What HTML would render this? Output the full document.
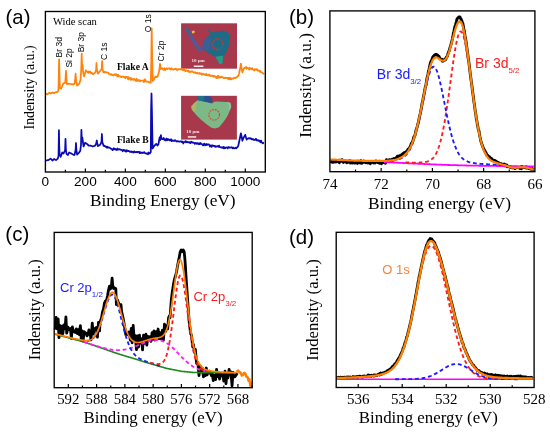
<!DOCTYPE html>
<html><head><meta charset="utf-8"><title>XPS spectra</title>
<style>
html,body{margin:0;padding:0;background:#fff;width:550px;height:432px;overflow:hidden}
svg{display:block;will-change:transform}

</style></head>
<body>
<svg width="550" height="432" viewBox="0 0 550 432">
<rect width="550" height="432" fill="#fff"/>
<rect x="181.1" y="23.3" width="55.9" height="45.4" fill="#a8384c"/>
<polygon points="185.05,28.32 186.86,27.47 188.99,30.45 191.12,34.18 193.78,37.91 195.91,41.64 198.57,45.36 201.23,48.56 201.77,51.54 199.64,51.97 197.51,49.62 194.84,46.43 192.71,42.7 190.58,38.97 188.45,35.25 186.32,31.52" fill="#4c5a9e"/>
<polygon points="185.05,28.32 186.86,27.47 188.99,30.45 190.58,33.12 188.45,34.18 186.32,31.52" fill="#2f6a92"/>
<polygon points="206.35,27.26 208.9,29.39 211.88,32.58 217.21,31.52 223.6,30.45 227.86,32.58 230.52,36.31 229.46,42.17 228.39,47.49 226.79,51.75 224.66,54.95 223.07,57.08 222.53,63.68 219.34,64.11 217.21,59.74 215.08,57.08 211.88,54.95 208.69,53.35 205.49,51.22 202.83,49.62 202.3,47.49 203.36,41.64 204.96,38.97 207.62,36.84 210.29,34.71 208.48,30.99" fill="#1e6b86"/>
<polygon points="202.83,49.62 202.3,47.49 203.36,41.64 204.96,38.97 207.62,37.06 210.29,37.06 211.03,44.3 209.97,50.16 206.56,51.33" fill="#3b5e96"/>
<polygon points="215.08,57.08 219.34,56.01 223.17,55.8 222.53,63.68 219.34,64.11 217.21,59.74" fill="#2a9a82"/>
<polygon points="191.65,31.73 192.93,30.45 194.84,30.99 194.42,33.12 192.29,33.44" fill="#e6c43c"/>
<circle cx="217.7" cy="44.3" r="5.4" fill="none" stroke="#ee2a2a" stroke-width="1.15" stroke-dasharray="1.7 1.1"/>
<rect x="193.8" y="65.6" width="9.6" height="1.3" fill="#fff"/>
<text x="198.0" y="62.4" font-family="Liberation Serif, serif" font-size="5" text-anchor="middle" fill="#fff" font-weight="bold" opacity="0.85">10 μm</text>
<rect x="181.1" y="95.8" width="55.8" height="43.8" fill="#a8384c"/>
<polygon points="191.29,106.29 195.11,102.22 197.91,99.93 204.27,101.2 212.16,102.98 214.46,101.71 217,101.45 225.91,102.09 230.24,102.73 231.26,106.29 229.98,110.11 228.2,114.44 225.66,119.02 222.35,123.35 219.04,127.16 215.22,128.44 211.4,127.67 206.56,124.36 201.09,119.78 196,114.82 191.8,109.35" fill="#7db987"/>
<polygon points="191.29,106.29 195.11,102.22 196.89,101.71 196.13,106.55 195.11,111.38 193.58,111.64 191.8,109.35" fill="#aab864"/>
<polygon points="197.91,96.11 209.62,96.11 212.16,97.89 212.42,103.49 207.07,102.22 202.36,101.2 197.91,99.93" fill="#2c4f8e"/>
<polygon points="197.91,96.11 204.02,96.11 204.53,99.16 202.24,101.2 197.91,99.93" fill="#1d7486"/>
<polygon points="226.16,102.09 230.24,102.73 231.26,106.29 229.98,110.11 228.46,110.36 229.22,105.27" fill="#8cc598"/>
<circle cx="214.2" cy="114.82" r="5.3" fill="none" stroke="#ee3a2a" stroke-width="1.15" stroke-dasharray="1.7 1.1"/>
<rect x="187.8" y="136.3" width="8.4" height="1.3" fill="#fff"/>
<text x="192.8" y="133.0" font-family="Liberation Serif, serif" font-size="5" text-anchor="middle" fill="#fff" font-weight="bold" opacity="0.85">10 μm</text>
<path d="M45.6 93.5 L46.17 93.83 L46.73 94.17 L47.3 94.5 L47.9 93.9 L48.5 93.3 L49.5 92.8 L50.15 93.2 L50.8 93.6 L51.43 93.23 L52.07 92.87 L52.7 92.5 L53.35 92.85 L54 93.2 L54.75 92.75 L55.5 92.3 L56.17 92.17 L56.83 92.03 L57.5 91.9 L58.4 90.8 L58.8 75 L59.1 59.3 L59.5 75 L59.9 88.1 L60.5 88.3 L61.1 88.5 L61.65 87.4 L62.2 86.3 L63.3 83.4 L63.9 83.27 L64.5 83.13 L65.1 83 L65.6 78 L66 70.9 L66.4 78 L66.9 84.1 L67.63 83.97 L68.37 83.83 L69.1 83.7 L69.65 83.8 L70.2 83.9 L70.75 84 L71.3 84.1 L71.85 84.2 L72.4 84.3 L72.95 84.4 L73.5 84.5 L74.6 83.5 L75.2 79 L75.6 73.7 L76.1 80 L77.1 85.5 L77.8 85 L78.5 84.5 L79.3 83.7 L79.9 81.85 L80.5 80 L81.2 70 L81.7 53.7 L82.1 68 L82.6 64.8 L83.1 72 L84 76.4 L84.63 74.4 L85.27 72.4 L85.9 70.4 L86.5 71 L87.1 71.6 L87.7 72.25 L88.26 72.81 L88.82 71.53 L89.38 72.51 L89.94 71.74 L90.5 71.66 L91.06 73.3 L91.62 72.81 L92.18 73.16 L92.74 74.04 L93.3 74.1 L93.9 73.63 L94.5 73.17 L95.1 72.7 L96.1 70 L96.5 63 L96.9 70 L97.9 73.6 L98.53 72.83 L99.17 72.07 L99.8 71.3 L100.43 70.53 L101.07 69.77 L101.7 69 L102.1 61.1 L102.5 69 L103.5 72.42 L104.06 71.96 L104.62 72.48 L105.18 71.8 L105.74 72.32 L106.3 72.46 L106.97 72.32 L107.65 72.57 L108.33 72.86 L109 73.97 L109.6 74.19 L110.2 74.28 L110.8 74.68 L111.4 74.09 L112 74.96 L112.6 75.17 L113.2 75.49 L113.8 74.65 L114.4 74.94 L115 74.09 L115.6 75.05 L116.2 74.25 L116.8 74.81 L117.4 76.33 L118 74.64 L118.6 76.42 L119.2 76.29 L119.8 76.07 L120.4 76.62 L121 76.79 L121.55 77.21 L122.1 76.65 L122.65 76.59 L123.2 76.73 L123.75 76.66 L124.3 77.32 L124.85 77.05 L125.4 78.21 L125.95 76.73 L126.5 77.3 L127.05 77.52 L127.6 77.03 L128.15 79.37 L128.7 77.14 L129.25 78.44 L129.8 78.45 L130.35 79.79 L130.9 77.93 L131.45 79.75 L132 78.9 L132.57 79.3 L133.14 79.1 L133.71 79.91 L134.29 79.02 L134.86 79.69 L135.43 80.01 L136 80.91 L136.57 78.66 L137.14 80.91 L137.71 80.68 L138.29 79.98 L138.86 80.5 L139.43 80.16 L140 81.41 L140.56 80.68 L141.11 80.51 L141.67 80.57 L142.22 80.66 L142.78 80.74 L143.33 80.42 L143.89 82.1 L144.44 79.98 L145 79.12 L145.6 81.17 L146.2 81.29 L146.8 81.72 L147.4 81.54 L148 81.71 L148.6 82.11 L149.2 82.6 L149.8 82.2 L150.8 82.6 L151.3 60 L151.7 28.3 L152.2 60 L152.8 81.1 L153.4 80.3 L154 79.5 L154.7 78 L155.4 76.5 L156.5 77.2 L157.5 76.8 L158.25 74.4 L159 72 L160 63.9 L160.8 69 L161.4 68.75 L162 68.25 L162.6 68.38 L163.2 69.73 L163.8 69.04 L164.4 68.29 L165 70.19 L165.6 69.43 L166.18 68.68 L166.76 68.35 L167.35 69.16 L167.93 68.54 L168.51 68.42 L169.09 68.29 L169.67 68.72 L170.25 69.61 L170.84 68.76 L171.42 68.2 L172 69.37 L172.56 69.07 L173.12 69.53 L173.68 69.76 L174.24 69.04 L174.8 69.09 L175.36 69.17 L175.92 68.61 L176.48 69.63 L177.04 70.05 L177.6 69.43 L178.16 69.24 L178.72 69.26 L179.28 69 L179.84 69.02 L180.4 69.28 L180.97 69.17 L181.55 69.53 L182.12 69.04 L182.7 70.24 L183.28 70.21 L183.85 69.69 L184.43 69.2 L185 70.6 L185.58 71.32 L186.16 70.42 L186.74 70.67 L187.32 70.74 L187.91 71.52 L188.49 70.77 L189.07 71.93 L189.65 71.33 L190.23 72.12 L190.81 71.74 L191.39 71.71 L191.98 71.14 L192.56 71.68 L193.14 72.03 L193.72 72.65 L194.3 72.53 L194.88 72.14 L195.45 72.86 L196.03 73.3 L196.6 72.79 L197.18 72.75 L197.75 72.9 L198.33 73.68 L198.9 73.65 L199.47 72.96 L200.05 73.79 L200.62 73.44 L201.2 73.41 L201.78 74.63 L202.35 74.51 L202.93 73.78 L203.5 74.34 L204.08 74.69 L204.66 74.17 L205.24 74.57 L205.82 75.12 L206.41 73.88 L206.99 75.16 L207.57 75.49 L208.15 75.48 L208.73 74.57 L209.31 75.6 L209.89 75.06 L210.48 75.96 L211.06 76.1 L211.64 75.99 L212.22 75.57 L212.8 75.77 L213.38 76.66 L213.95 75.79 L214.53 76.65 L215.1 76.76 L215.68 76.42 L216.25 77.98 L216.83 76.79 L217.4 78.03 L217.97 75.83 L218.55 75.8 L219.12 77.67 L219.7 77.57 L220.28 77.15 L220.85 77.38 L221.43 76.46 L222 77.25 L222.58 77.09 L223.16 77.59 L223.74 78.26 L224.32 77.85 L224.91 78.09 L225.49 77.55 L226.07 77.75 L226.65 78.11 L227.23 77.95 L227.81 78.86 L228.39 77.74 L228.98 79.32 L229.56 77.79 L230.14 78.97 L230.72 78.02 L231.3 79.41 L231.92 78.53 L232.53 78.62 L233.15 78.76 L233.77 77.95 L234.38 77.68 L235 78.2 L235.63 77.8 L236.27 77.4 L236.9 77 L237.7 76.25 L238.5 75.5 L239.1 73.3 L240.2 68 L240.9 63.7 L241.5 68 L242.4 72.4 L243.2 70 L243.75 68.9 L244.3 67.8 L244.87 67.87 L245.43 67.93 L246 66.89 L246.63 68.79 L247.27 67.85 L247.9 68.02 L248.53 68.45 L249.17 69.68 L249.8 67.75 L250.38 68.93 L250.96 68.66 L251.53 69.26 L252.11 68.07 L252.69 68.93 L253.27 69.7 L253.84 70.18 L254.42 70.29 L255 69.03 L255.57 69.69 L256.14 69.75 L256.71 69.21 L257.29 69.34 L257.86 70.7 L258.43 70.58 L259 70.52 L259.6 71.65 L260.2 70.81 L260.8 72.03 L261.4 72.13 L262 72.5 L262.57 72.95 L263.15 73.4 L263.73 73.85 L264.3 74.3" fill="none" stroke="#ff820a" stroke-width="1.75" stroke-linejoin="round"/>
<path d="M45.6 160.7 L46.2 160.5 L46.93 160.37 L47.67 160.23 L48.4 160.1 L49.1 159.6 L49.8 159.1 L50.5 158.6 L51.13 159.23 L51.77 159.87 L52.4 160.5 L53 160 L53.6 159.5 L54.2 159 L54.8 159.37 L55.4 159.73 L56 160.1 L56.6 159.6 L57.2 159.1 L57.8 158.6 L58.5 156.1 L58.7 145 L58.95 130.2 L59.2 145 L59.6 154.6 L60.15 155.7 L60.7 156.8 L61.45 154.65 L62.2 152.5 L62.9 153 L63.6 153.5 L64.35 151.75 L65.1 150 L65.5 138.9 L65.9 150 L66.5 153.9 L67.25 154.45 L68 155 L69.1 152.5 L69.7 152.73 L70.3 152.97 L70.9 153.2 L71.63 153.67 L72.37 154.13 L73.1 154.6 L73.8 154.8 L74.5 155 L75.6 150 L76 143 L76.4 150 L77.1 154.6 L77.7 154 L78.3 153.4 L78.9 152.8 L79.6 151.75 L80.3 150.7 L81 145 L81.4 129.9 L81.8 140 L82.4 137.7 L82.9 142 L83.6 146.5 L84.3 144.65 L85 142.8 L85.6 143.13 L86.2 143.47 L86.8 143.8 L87.43 144.4 L88.07 145 L88.7 145.6 L89.3 145.6 L89.9 145.6 L90.5 145.6 L91.08 145.82 L91.65 146.05 L92.22 146.28 L92.8 146.5 L93.38 146.28 L93.95 146.05 L94.52 145.82 L95.1 145.6 L95.75 144.3 L96.4 143 L96.8 140.5 L97.2 143 L97.9 146.1 L98.48 145.75 L99.05 145.4 L99.62 145.05 L100.2 144.7 L100.85 143.35 L101.5 142 L101.9 134 L102.3 142 L102.9 143.8 L103.5 145.62 L104.06 146.04 L104.62 145.71 L105.18 146.33 L105.74 146.83 L106.3 146.73 L106.97 147.71 L107.65 146.71 L108.33 147.59 L109 147.51 L109.6 147.67 L110.2 148.2 L110.8 148.62 L111.4 148.93 L112 149.18 L112.6 150.2 L113.2 149.51 L113.8 148.23 L114.4 149.29 L115 148.91 L115.6 149.04 L116.2 150.11 L116.8 149.34 L117.4 148.46 L118 149.77 L118.6 149.52 L119.2 149.11 L119.8 149.33 L120.4 149.58 L121 149.99 L121.6 149.85 L122.2 150.2 L122.8 151.25 L123.4 149.88 L124 149.96 L124.56 150.38 L125.12 151.23 L125.69 150.35 L126.25 151.64 L126.81 150.24 L127.38 150.51 L127.94 151.16 L128.5 150.83 L129.08 151.02 L129.66 151.66 L130.24 151.87 L130.82 151.59 L131.41 151.43 L131.99 152.38 L132.57 151.92 L133.15 151.62 L133.73 152.47 L134.31 151.37 L134.89 152.01 L135.48 152.34 L136.06 152.03 L136.64 151.77 L137.22 152.34 L137.8 151.9 L138.38 151.93 L138.95 151.75 L139.53 153.09 L140.1 152.12 L140.68 153.12 L141.25 152.75 L141.83 152.45 L142.4 153.02 L142.97 152.86 L143.55 152.83 L144.12 152.06 L144.7 152.91 L145.28 153.42 L145.85 153.26 L146.43 153.59 L147 153.92 L147.56 153.41 L148.12 154.35 L148.68 152.51 L149.24 153.29 L149.8 153.5 L150.8 152 L151.1 110 L151.5 93.5 L151.9 110 L152.6 148.5 L153.2 147.57 L153.8 146.63 L154.4 145.7 L155.03 145.1 L155.67 144.5 L156.3 143.9 L156.9 144.7 L157.5 145.5 L158.5 144 L159.6 137.4 L160.2 140 L160.9 135.2 L161.6 139 L162.3 139.1 L163 139.2 L163.7 137.91 L164.27 139.82 L164.84 139.49 L165.41 140.44 L165.98 139.38 L166.55 138.53 L167.12 140.42 L167.68 139.05 L168.25 139.16 L168.82 139.83 L169.39 140.34 L169.96 139.78 L170.53 140.23 L171.1 139.17 L171.68 141.23 L172.26 140.33 L172.84 140.51 L173.43 140.85 L174.01 140.7 L174.59 140.8 L175.17 140.26 L175.75 140.79 L176.33 141.17 L176.91 141.59 L177.49 141.03 L178.07 141.23 L178.66 141.44 L179.24 141.65 L179.82 141.53 L180.4 141.36 L180.97 141.23 L181.55 142.14 L182.12 141.7 L182.7 141.56 L183.28 143.48 L183.85 142.06 L184.43 142.06 L185 141.68 L185.58 141.1 L186.15 142.33 L186.73 141.71 L187.31 141.84 L187.88 142.43 L188.46 142.48 L189.04 142.11 L189.62 142.04 L190.19 143.24 L190.77 142.45 L191.35 141.63 L191.92 142.66 L192.5 142.38 L193.08 142.43 L193.65 142.91 L194.23 142.78 L194.81 143.86 L195.38 142.99 L195.96 143.13 L196.54 143.75 L197.12 142.91 L197.69 143.9 L198.27 143.42 L198.85 144.22 L199.42 143.22 L200 144.03 L200.58 143.01 L201.17 143.73 L201.75 144.06 L202.34 144.41 L202.92 145.31 L203.51 145.32 L204.09 143.66 L204.68 144.06 L205.26 145.25 L205.85 144.89 L206.43 143.98 L207.02 145.08 L207.6 144.28 L208.18 144.52 L208.75 144.39 L209.33 145.03 L209.91 146.51 L210.48 145.57 L211.06 145.4 L211.64 146.93 L212.22 145.38 L212.79 145.65 L213.37 145.68 L213.95 146.15 L214.52 145.84 L215.1 146.9 L215.66 146.05 L216.22 146.63 L216.79 146.56 L217.35 146.08 L217.91 146.13 L218.47 146.75 L219.04 145.63 L219.6 147.01 L220.16 147.16 L220.72 147.3 L221.29 147.3 L221.85 147.64 L222.41 147.37 L222.97 148.03 L223.54 146.89 L224.1 148.4 L224.7 147.39 L225.3 148.11 L225.9 147.56 L226.5 147.55 L227.1 147.32 L227.7 148.46 L228.3 147.09 L228.9 147 L229.5 147.75 L230.1 147.74 L230.7 147.69 L231.3 147.21 L231.9 147.45 L232.5 148.38 L233.1 147.38 L233.7 148.36 L234.3 148.49 L234.9 148.23 L235.5 147.56 L236.1 148.3 L236.8 147.65 L237.5 147 L238.4 145.3 L239.5 140 L240.2 136.65 L240.9 133.3 L241.7 137 L242.4 140.8 L243.5 138 L244.07 136.93 L244.63 135.87 L245.2 134.8 L246 137.5 L246.7 139.65 L247.26 138.67 L247.82 138.71 L248.39 138.39 L248.95 138.08 L249.51 138.45 L250.07 138.71 L250.64 138.14 L251.2 138.66 L251.8 139.38 L252.4 139.14 L253 139 L253.6 139.78 L254.2 139.85 L254.8 140 L255.4 139.22 L256 138.81 L256.6 140.39 L257.2 140.13 L257.83 140.13 L258.47 140.83 L259.1 140.55 L259.73 140.7 L260.37 142.26 L261 140.63 L261.6 142.28 L262.2 142.7 L262.8 143.43 L263.4 142.92 L264 143.1" fill="none" stroke="#0a0ab4" stroke-width="1.75" stroke-linejoin="round"/>
<rect x="45.4" y="11.5" width="219.9" height="160.5" fill="none" stroke="#000" stroke-width="1.35"/>
<path d="M85.38 172V168.4M125.36 172V168.4M165.35 172V168.4M205.33 172V168.4M245.31 172V168.4M65.39 172V169.7M105.37 172V169.7M145.35 172V169.7M185.34 172V169.7M225.32 172V169.7" stroke="#000" stroke-width="1.2" fill="none"/>
<text x="45.4" y="185.9" font-family="Liberation Sans, sans-serif" font-size="13.6" text-anchor="middle" fill="#000" >0</text>
<text x="85.38" y="185.9" font-family="Liberation Sans, sans-serif" font-size="13.6" text-anchor="middle" fill="#000" >200</text>
<text x="125.36" y="185.9" font-family="Liberation Sans, sans-serif" font-size="13.6" text-anchor="middle" fill="#000" >400</text>
<text x="165.35" y="185.9" font-family="Liberation Sans, sans-serif" font-size="13.6" text-anchor="middle" fill="#000" >600</text>
<text x="205.33" y="185.9" font-family="Liberation Sans, sans-serif" font-size="13.6" text-anchor="middle" fill="#000" >800</text>
<text x="245.31" y="185.9" font-family="Liberation Sans, sans-serif" font-size="13.6" text-anchor="middle" fill="#000" >1000</text>
<text x="162.75" y="205.9" font-family="Liberation Serif, serif" font-size="17.3" text-anchor="middle" fill="#000" >Binding Energy (eV)</text>
<text transform="translate(34 87.45) rotate(-90)" x="0" y="0" font-family="Liberation Serif, serif" font-size="13.8" text-anchor="middle" fill="#000" >Indensity (a.u.)</text>
<text x="18" y="24" font-family="Liberation Sans, sans-serif" font-size="20.3" text-anchor="middle" fill="#000" >(a)</text>
<text x="52.9" y="25.3" font-family="Liberation Serif, serif" font-size="10.6" text-anchor="start" fill="#000" >Wide scan</text>
<text x="117" y="69.6" font-family="Liberation Serif, serif" font-size="9.6" text-anchor="start" fill="#000" font-weight="bold">Flake A</text>
<text x="117" y="142.6" font-family="Liberation Serif, serif" font-size="9.6" text-anchor="start" fill="#000" font-weight="bold">Flake B</text>
<text transform="translate(62.2 57.4) rotate(-90)" x="0" y="0" font-family="Liberation Sans, sans-serif" font-size="8.5" text-anchor="start" fill="#000" >Br 3d</text>
<text transform="translate(71.7 67.6) rotate(-90)" x="0" y="0" font-family="Liberation Sans, sans-serif" font-size="8.5" text-anchor="start" fill="#000" >Si 2p</text>
<text transform="translate(83.7 52.3) rotate(-90)" x="0" y="0" font-family="Liberation Sans, sans-serif" font-size="8.5" text-anchor="start" fill="#000" >Br 3p</text>
<text transform="translate(106.5 60.1) rotate(-90)" x="0" y="0" font-family="Liberation Sans, sans-serif" font-size="8.5" text-anchor="start" fill="#000" >C 1s</text>
<text transform="translate(151.3 32.3) rotate(-90)" x="0" y="0" font-family="Liberation Sans, sans-serif" font-size="8.5" text-anchor="start" fill="#000" >O 1s</text>
<text transform="translate(164.4 61.4) rotate(-90)" x="0" y="0" font-family="Liberation Sans, sans-serif" font-size="8.5" text-anchor="start" fill="#000" >Cr 2p</text>
<path d="M330.4 161.06 L330.9 161.1 L331.4 161.96 L331.9 161.82 L332.4 162.27 L332.9 161.71 L333.4 160.62 L333.9 162.17 L334.4 161.19 L334.9 160.63 L335.4 160.56 L335.9 162 L336.4 160.47 L336.9 161.63 L337.4 161.1 L337.9 160.79 L338.4 160.65 L338.9 161.59 L339.4 162.66 L339.9 160.33 L340.4 160.87 L340.9 160.82 L341.4 160.07 L341.9 161.13 L342.4 159.82 L342.9 161.93 L343.4 162.37 L343.9 161.54 L344.4 161.75 L344.9 161.27 L345.4 161.09 L345.9 161.13 L346.4 162.48 L346.9 162.74 L347.4 162.25 L347.9 161.64 L348.4 162.17 L348.9 160.95 L349.4 161.47 L349.9 160.47 L350.4 162.97 L350.9 162.45 L351.4 162.08 L351.9 162.66 L352.4 163.02 L352.9 162.11 L353.4 162.37 L353.9 162.65 L354.4 162.91 L354.9 163.11 L355.4 162.49 L355.9 162.6 L356.4 161.9 L356.9 161.8 L357.4 163.45 L357.9 161.25 L358.4 162.37 L358.9 161.9 L359.4 162.02 L359.9 162.87 L360.4 163.03 L360.9 160.65 L361.4 161.38 L361.9 163.29 L362.4 162.47 L362.9 161.42 L363.4 162.12 L363.9 161 L364.4 162.34 L364.9 161.61 L365.4 162.03 L365.9 162.73 L366.4 162.4 L366.9 161.85 L367.4 162.06 L367.9 162.98 L368.4 162.03 L368.9 161.93 L369.4 162.73 L369.9 162.63 L370.4 163.74 L370.9 161.92 L371.4 161.57 L371.9 161.88 L372.4 162.21 L372.9 162.28 L373.4 162.84 L373.9 162.06 L374.4 162.79 L374.9 162.98 L375.4 161.54 L375.9 160.93 L376.4 161.79 L376.9 161.64 L377.4 162.45 L377.9 162.15 L378.4 161.72 L378.9 162.48 L379.4 163.34 L379.9 161.32 L380.4 163.02 L380.9 163.21 L381.4 163.68 L381.9 162.37 L382.4 162.76 L382.9 162.55 L383.4 162.09 L383.9 162.24 L384.4 162.58 L384.9 162.07 L385.4 163.34 L385.9 162.55 L386.4 159.74 L386.9 161.18 L387.4 160.77 L387.9 160.19 L388.4 161.14 L388.9 161.31 L389.4 159.62 L389.9 159.89 L390.4 160.27 L390.9 160.1 L391.4 159.69 L391.9 159.27 L392.4 160.67 L392.9 159.98 L393.4 158.7 L393.9 158.44 L394.4 159.78 L394.9 159.22 L395.4 159.38 L395.9 158.59 L396.4 157.46 L396.9 157.73 L397.4 156.22 L397.9 156.62 L398.4 156.65 L398.9 156.63 L399.4 155.69 L399.9 155.67 L400.4 155.64 L400.9 155.27 L401.4 155.08 L401.9 154.53 L402.4 153.98 L402.9 154.26 L403.4 153.6 L403.9 152.86 L404.4 152.65 L404.9 152.62 L405.4 152.2 L405.9 151.94 L406.4 151.43 L406.9 151.05 L407.4 150.39 L407.9 149.27 L408.4 149.5 L408.9 149.15 L409.4 148.11 L409.9 147 L410.4 146.45 L410.9 144.81 L411.4 143.34 L411.9 143.22 L412.4 141.56 L412.9 141.14 L413.4 138.9 L413.9 136.71 L414.4 136 L414.9 135.72 L415.4 133.06 L415.9 130.81 L416.4 129.28 L416.9 128 L417.4 125.99 L417.9 123.76 L418.4 122.27 L418.9 119.67 L419.4 117.02 L419.9 114.99 L420.4 113.12 L420.9 110.34 L421.4 107.87 L421.9 104.28 L422.4 102.18 L422.9 100.03 L423.4 96.9 L423.9 94.96 L424.4 92.09 L424.9 89.61 L425.4 86.44 L425.9 85.22 L426.4 82.01 L426.9 78.76 L427.4 76.45 L427.9 75.31 L428.4 71.53 L428.9 69.92 L429.4 67.87 L429.9 65.41 L430.4 62.98 L430.9 61.97 L431.4 60.53 L431.9 59.57 L432.4 58.23 L432.9 56.86 L433.4 56.48 L433.9 55.72 L434.4 55.12 L434.9 54.79 L435.4 54.55 L435.9 55.07 L436.4 54.39 L436.9 54.9 L437.4 55.61 L437.9 55.35 L438.4 56.38 L438.9 56.14 L439.4 57.37 L439.9 58.54 L440.4 59.06 L440.9 59.23 L441.4 59.56 L441.9 59.3 L442.4 61.17 L442.9 60.66 L443.4 60.99 L443.9 59.92 L444.4 60.06 L444.9 58.89 L445.4 59.71 L445.9 59.17 L446.4 56.98 L446.9 56.99 L447.4 56.28 L447.9 53.88 L448.4 52.51 L448.9 51.4 L449.4 50 L449.9 47.87 L450.4 46.73 L450.9 44.86 L451.4 42.98 L451.9 40.86 L452.4 39.05 L452.9 36.62 L453.4 33.11 L453.9 31.26 L454.4 28.77 L454.9 26.64 L455.4 25.12 L455.9 23.31 L456.4 21.88 L456.9 19.38 L457.4 18.35 L457.9 18.02 L458.4 17.28 L458.9 16.88 L459.4 16.96 L459.9 16.88 L460.4 18.18 L460.9 18.88 L461.4 19.81 L461.9 20.96 L462.4 22.93 L462.9 23.62 L463.4 26.69 L463.9 29.63 L464.4 31.49 L464.9 35.17 L465.4 38.15 L465.9 40.55 L466.4 44.43 L466.9 47.85 L467.4 51.8 L467.9 55.55 L468.4 58.99 L468.9 62.41 L469.4 66.65 L469.9 70.61 L470.4 74.96 L470.9 78.69 L471.4 82.12 L471.9 85.71 L472.4 90.07 L472.9 93.7 L473.4 97.27 L473.9 101.43 L474.4 104.82 L474.9 108.59 L475.4 112.16 L475.9 114.94 L476.4 119.43 L476.9 121.1 L477.4 124.68 L477.9 126.91 L478.4 130 L478.9 130.7 L479.4 133.82 L479.9 136.49 L480.4 138.7 L480.9 141.47 L481.4 142.23 L481.9 144.36 L482.4 145.62 L482.9 147.12 L483.4 148.19 L483.9 149.05 L484.4 150.47 L484.9 150.68 L485.4 152.72 L485.9 152.46 L486.4 153.86 L486.9 155.49 L487.4 154.96 L487.9 155.67 L488.4 156.79 L488.9 156.72 L489.4 156.77 L489.9 157.74 L490.4 158.31 L490.9 158.75 L491.4 158.38 L491.9 159.98 L492.4 160.27 L492.9 159.76 L493.4 160.19 L493.9 160.13 L494.4 161.33 L494.9 160.54 L495.4 161.52 L495.9 161.24 L496.4 161.41 L496.9 162.39 L497.4 162.96 L497.9 162.53 L498.4 162.44 L498.9 163.41 L499.4 163.19 L499.9 163.58 L500.4 164.39 L500.9 164.39 L501.4 163.75 L501.9 165.33 L502.4 164.36 L502.9 164.91 L503.4 164.35 L503.9 164.8 L504.4 164.09 L504.9 165.99 L505.4 165.91 L505.9 164.84 L506.4 164.92 L506.9 165.09 L507.4 166.72 L507.9 166.12 L508.4 166.54 L508.9 166.63 L509.4 166.94 L509.9 166.68 L510.4 167.44 L510.9 166.79 L511.4 167.52 L511.9 167.75 L512.4 167.87 L512.9 167.56 L513.4 167.26 L513.9 167.83 L514.4 167.54 L514.9 168.61 L515.4 168.17 L515.9 167.7 L516.4 167.49 L516.9 167.34 L517.4 167.19 L517.9 167.45 L518.4 167.74 L518.9 167.81 L519.4 167.8 L519.9 168.53 L520.4 167.1 L520.9 167.43 L521.4 168.8 L521.9 166.44 L522.4 167.08 L522.9 167.4 L523.4 167.36 L523.9 167.46 L524.4 167.16 L524.9 167.57 L525.4 167.53 L525.9 167.99 L526.4 166.77 L526.9 167.38 L527.4 167.93 L527.9 167.52 L528.4 167.62 L528.9 168.56 L529.4 168.03 L529.9 168.78 L530.4 168.98 L530.9 168.92 L531.4 169.18 L531.9 169.04 L532.4 168.55 L532.9 169.4 L533.4 169.8 L533.9 169.47" fill="none" stroke="#000" stroke-width="2.9" stroke-linejoin="round"/>
<path d="M383.9 161.95 L384.4 161.98 L384.9 162.01 L385.4 162.04 L385.9 162.07 L386.4 162.09 L386.9 162.12 L387.4 162.15 L387.9 162.18 L388.4 162.21 L388.9 162.24 L389.4 162.27 L389.9 162.29 L390.4 162.32 L390.9 162.35 L391.4 162.38 L391.9 162.41 L392.4 162.44 L392.9 162.47 L393.4 162.49 L393.9 162.52 L394.4 162.55 L394.9 162.58 L395.4 162.61 L395.9 162.64 L396.4 162.67 L396.9 162.69 L397.4 162.72 L397.9 162.74 L398.4 162.77 L398.9 162.79 L399.4 162.82 L399.9 162.84 L400.4 162.87 L400.9 162.89 L401.4 162.92 L401.9 162.94 L402.4 162.97 L402.9 162.99 L403.4 163.02 L403.9 163.04 L404.4 163.07 L404.9 163.09 L405.4 163.12 L405.9 163.14 L406.4 163.17 L406.9 163.19 L407.4 163.22 L407.9 163.25 L408.4 163.27 L408.9 163.29 L409.4 163.32 L409.9 163.34 L410.4 163.37 L410.9 163.39 L411.4 163.42 L411.9 163.44 L412.4 163.47 L412.9 163.5 L413.4 163.52 L413.9 163.54 L414.4 163.57 L414.9 163.59 L415.4 163.62 L415.9 163.64 L416.4 163.66 L416.9 163.68 L417.4 163.7 L417.9 163.73 L418.4 163.75 L418.9 163.77 L419.4 163.79 L419.9 163.81 L420.4 163.83 L420.9 163.86 L421.4 163.88 L421.9 163.9 L422.4 163.92 L422.9 163.94 L423.4 163.96 L423.9 163.99 L424.4 164.01 L424.9 164.03 L425.4 164.05 L425.9 164.07 L426.4 164.09 L426.9 164.12 L427.4 164.14 L427.9 164.16 L428.4 164.18 L428.9 164.2 L429.4 164.22 L429.9 164.25 L430.4 164.27 L430.9 164.29 L431.4 164.31 L431.9 164.33 L432.4 164.35 L432.9 164.38 L433.4 164.4 L433.9 164.42 L434.4 164.44 L434.9 164.46 L435.4 164.48 L435.9 164.51 L436.4 164.53 L436.9 164.55 L437.4 164.57 L437.9 164.59 L438.4 164.61 L438.9 164.64 L439.4 164.66 L439.9 164.68 L440.4 164.7 L440.9 164.72 L441.4 164.74 L441.9 164.77 L442.4 164.79 L442.9 164.81 L443.4 164.83 L443.9 164.85 L444.4 164.87 L444.9 164.9 L445.4 164.91 L445.9 164.93 L446.4 164.94 L446.9 164.95 L447.4 164.97 L447.9 164.98 L448.4 165 L448.9 165.01 L449.4 165.02 L449.9 165.04 L450.4 165.05 L450.9 165.07 L451.4 165.08 L451.9 165.09 L452.4 165.11 L452.9 165.12 L453.4 165.14 L453.9 165.15 L454.4 165.16 L454.9 165.18 L455.4 165.19 L455.9 165.21 L456.4 165.22 L456.9 165.23 L457.4 165.25 L457.9 165.26 L458.4 165.28 L458.9 165.29 L459.4 165.3 L459.9 165.32 L460.4 165.33 L460.9 165.35 L461.4 165.36 L461.9 165.37 L462.4 165.39 L462.9 165.4 L463.4 165.42 L463.9 165.43 L464.4 165.44 L464.9 165.46 L465.4 165.47 L465.9 165.49 L466.4 165.5 L466.9 165.51 L467.4 165.53 L467.9 165.54 L468.4 165.56 L468.9 165.57 L469.4 165.58 L469.9 165.6 L470.4 165.61 L470.9 165.61 L471.4 165.62 L471.9 165.63 L472.4 165.63 L472.9 165.64 L473.4 165.65 L473.9 165.66 L474.4 165.66 L474.9 165.67 L475.4 165.68 L475.9 165.68 L476.4 165.69 L476.9 165.7 L477.4 165.71 L477.9 165.71 L478.4 165.72 L478.9 165.73 L479.4 165.73 L479.9 165.74 L480.4 165.75 L480.9 165.76 L481.4 165.76 L481.9 165.77 L482.4 165.78 L482.9 165.78 L483.4 165.79 L483.9 165.8 L484.4 165.81 L484.9 165.81 L485.4 165.82 L485.9 165.83 L486.4 165.83 L486.9 165.84 L487.4 165.85 L487.9 165.86 L488.4 165.86 L488.9 165.87 L489.4 165.88 L489.9 165.88 L490.4 165.89 L490.9 165.9 L491.4 165.91 L491.9 165.91 L492.4 165.92 L492.9 165.93 L493.4 165.93 L493.9 165.94 L494.4 165.95 L494.9 165.96 L495.4 165.96 L495.9 165.97 L496.4 165.98 L496.9 165.98 L497.4 165.99 L497.9 166 L498.4 166.01 L498.9 166.01 L499.4 166.02 L499.9 166.03 L500.4 166.03 L500.9 166.04 L501.4 166.05 L501.9 166.06 L502.4 166.06 L502.9 166.07 L503.4 166.08 L503.9 166.08 L504.4 166.09 L504.9 166.1 L505.4 166.11 L505.9 166.11 L506.4 166.12 L506.9 166.13 L507.4 166.13 L507.9 166.14 L508.4 166.15 L508.9 166.15 L509.4 166.16 L509.9 166.17 L510.4 166.17 L510.9 166.18 L511.4 166.19 L511.9 166.2 L512.4 166.2 L512.9 166.21 L513.4 166.22 L513.9 166.22 L514.4 166.23 L514.9 166.24 L515.4 166.24 L515.9 166.25 L516.4 166.26 L516.9 166.26 L517.4 166.27 L517.9 166.28 L518.4 166.28 L518.9 166.29 L519.4 166.3 L519.9 166.31 L520.4 166.31 L520.9 166.32 L521.4 166.33 L521.9 166.33 L522.4 166.34 L522.9 166.35 L523.4 166.35 L523.9 166.36 L524.4 166.37 L524.9 166.37 L525.4 166.38 L525.9 166.39 L526.4 166.4 L526.9 166.4 L527.4 166.41 L527.9 166.42 L528.4 166.42 L528.9 166.43 L529.4 166.44 L529.9 166.44 L530.4 166.45 L530.9 166.46 L531.4 166.46 L531.9 166.47 L532.4 166.48 L532.9 166.48 L533.4 166.49 L533.9 166.5" stroke="#ff00ff" stroke-width="1.8" fill="none"/>
<path d="M405.4 162.43 L405.9 162.44 L406.4 162.45 L406.9 162.47 L407.4 162.48 L407.9 162.49 L408.4 162.5 L408.9 162.51 L409.4 162.52 L409.9 162.53 L410.4 162.54 L410.9 162.55 L411.4 162.56 L411.9 162.57 L412.4 162.57 L412.9 162.58 L413.4 162.59 L413.9 162.59 L414.4 162.6 L414.9 162.6 L415.4 162.6 L415.9 162.6 L416.4 162.59 L416.9 162.59 L417.4 162.58 L417.9 162.57 L418.4 162.56 L418.9 162.55 L419.4 162.54 L419.9 162.52 L420.4 162.5 L420.9 162.47 L421.4 162.45 L421.9 162.41 L422.4 162.37 L422.9 162.33 L423.4 162.28 L423.9 162.22 L424.4 162.16 L424.9 162.08 L425.4 161.99 L425.9 161.89 L426.4 161.78 L426.9 161.65 L427.4 161.51 L427.9 161.35 L428.4 161.16 L428.9 160.96 L429.4 160.73 L429.9 160.46 L430.4 160.17 L430.9 159.85 L431.4 159.48 L431.9 159.08 L432.4 158.63 L432.9 158.13 L433.4 157.58 L433.9 156.97 L434.4 156.3 L434.9 155.56 L435.4 154.76 L435.9 153.87 L436.4 152.91 L436.9 151.86 L437.4 150.72 L437.9 149.49 L438.4 148.15 L438.9 146.72 L439.4 145.17 L439.9 143.52 L440.4 141.74 L440.9 139.85 L441.4 137.84 L441.9 135.7 L442.4 133.44 L442.9 131.06 L443.4 128.54 L443.9 125.91 L444.4 123.15 L444.9 120.27 L445.4 117.27 L445.9 114.16 L446.4 110.94 L446.9 107.63 L447.4 104.22 L447.9 100.73 L448.4 97.17 L448.9 93.56 L449.4 89.89 L449.9 86.2 L450.4 82.48 L450.9 78.76 L451.4 75.06 L451.9 71.39 L452.4 67.76 L452.9 64.21 L453.4 60.74 L453.9 57.37 L454.4 54.13 L454.9 51.03 L455.4 48.1 L455.9 45.36 L456.4 42.81 L456.9 40.48 L457.4 38.4 L457.9 36.56 L458.4 34.99 L458.9 33.7 L459.4 32.7 L459.9 32 L460.4 31.6 L460.9 31.51 L461.4 31.74 L461.9 32.28 L462.4 33.15 L462.9 34.32 L463.4 35.8 L463.9 37.55 L464.4 39.59 L464.9 41.88 L465.4 44.4 L465.9 47.15 L466.4 50.1 L466.9 53.23 L467.4 56.52 L467.9 59.95" fill="none" stroke="#ff1a1a" stroke-width="1.85" stroke-dasharray="3.8 2.8"/>
<path d="M392.4 160.02 L392.9 159.99 L393.4 159.95 L393.9 159.91 L394.4 159.86 L394.9 159.81 L395.4 159.75 L395.9 159.69 L396.4 159.62 L396.9 159.54 L397.4 159.44 L397.9 159.34 L398.4 159.22 L398.9 159.1 L399.4 158.95 L399.9 158.8 L400.4 158.62 L400.9 158.43 L401.4 158.22 L401.9 157.99 L402.4 157.73 L402.9 157.45 L403.4 157.14 L403.9 156.81 L404.4 156.44 L404.9 156.03 L405.4 155.59 L405.9 155.11 L406.4 154.59 L406.9 154.02 L407.4 153.41 L407.9 152.74 L408.4 152.03 L408.9 151.26 L409.4 150.43 L409.9 149.54 L410.4 148.58 L410.9 147.56 L411.4 146.48 L411.9 145.32 L412.4 144.09 L412.9 142.79 L413.4 141.41 L413.9 139.96 L414.4 138.43 L414.9 136.82 L415.4 135.13 L415.9 133.37 L416.4 131.53 L416.9 129.62 L417.4 127.63 L417.9 125.58 L418.4 123.45 L418.9 121.27 L419.4 119.03 L419.9 116.73 L420.4 114.39 L420.9 112 L421.4 109.58 L421.9 107.13 L422.4 104.66 L422.9 102.17 L423.4 99.69 L423.9 97.21 L424.4 94.75 L424.9 92.32 L425.4 89.92 L425.9 87.58 L426.4 85.3 L426.9 83.09 L427.4 80.97 L427.9 78.95 L428.4 77.04 L428.9 75.26 L429.4 73.62 L429.9 72.12 L430.4 70.79 L430.9 69.62 L431.4 68.64 L431.9 67.85 L432.4 67.25 L432.9 66.85 L433.4 66.66 L433.9 66.67 L434.4 66.89 L434.9 67.32 L435.4 67.94 L435.9 68.76 L436.4 69.78 L436.9 70.97 L437.4 72.33 L437.9 73.86 L438.4 75.53 L438.9 77.35 L439.4 79.29 L439.9 81.34 L440.4 83.5 L440.9 85.74 L441.4 88.06 L441.9 90.44 L442.4 92.88 L442.9 95.35 L443.4 97.86 L443.9 100.38 L444.4 102.9 L444.9 105.43 L445.4 107.94 L445.9 110.43 L446.4 112.89 L446.9 115.31 L447.4 117.7 L447.9 120.03 L448.4 122.32 L448.9 124.54 L449.4 126.7 L449.9 128.8 L450.4 130.83 L450.9 132.78 L451.4 134.66 L451.9 136.47 L452.4 138.2 L452.9 139.85 L453.4 141.42 L453.9 142.92 L454.4 144.35 L454.9 145.69 L455.4 146.97 L455.9 148.17 L456.4 149.3 L456.9 150.36 L457.4 151.36 L457.9 152.3 L458.4 153.17 L458.9 153.99 L459.4 154.74 L459.9 155.45 L460.4 156.11 L460.9 156.72 L461.4 157.28 L461.9 157.8 L462.4 158.29 L462.9 158.73 L463.4 159.14 L463.9 159.52 L464.4 159.87 L464.9 160.2 L465.4 160.49 L465.9 160.77 L466.4 161.02 L466.9 161.25 L467.4 161.46 L467.9 161.66 L468.4 161.84 L468.9 162.01 L469.4 162.17 L469.9 162.31 L470.4 162.44 L470.9 162.56 L471.4 162.66 L471.9 162.77 L472.4 162.86 L472.9 162.95 L473.4 163.03 L473.9 163.11 L474.4 163.18 L474.9 163.25 L475.4 163.31 L475.9 163.37 L476.4 163.43 L476.9 163.48 L477.4 163.53 L477.9 163.58 L478.4 163.63 L478.9 163.68 L479.4 163.72 L479.9 163.76 L480.4 163.81 L480.9 163.85 L481.4 163.88 L481.9 163.92 L482.4 163.96 L482.9 163.99 L483.4 164.03 L483.9 164.06 L484.4 164.09 L484.9 164.12 L485.4 164.15 L485.9 164.18 L486.4 164.21 L486.9 164.24 L487.4 164.27 L487.9 164.3 L488.4 164.33 L488.9 164.35 L489.4 164.38 L489.9 164.4 L490.4 164.43 L490.9 164.45 L491.4 164.48 L491.9 164.5 L492.4 164.53 L492.9 164.55 L493.4 164.57 L493.9 164.59 L494.4 164.62 L494.9 164.64 L495.4 164.66 L495.9 164.68 L496.4 164.7 L496.9 164.72 L497.4 164.74 L497.9 164.76 L498.4 164.78 L498.9 164.8 L499.4 164.82 L499.9 164.84 L500.4 164.86 L500.9 164.87 L501.4 164.89 L501.9 164.91 L502.4 164.93 L502.9 164.94 L503.4 164.96 L503.9 164.98 L504.4 165 L504.9 165.01" fill="none" stroke="#1a1aff" stroke-width="1.85" stroke-dasharray="3.8 2.8"/>
<path d="M330.4 159.45 L330.9 159.48 L331.4 159.5 L331.9 159.53 L332.4 159.55 L332.9 159.58 L333.4 159.6 L333.9 159.63 L334.4 159.65 L334.9 159.67 L335.4 159.7 L335.9 159.72 L336.4 159.75 L336.9 159.77 L337.4 159.8 L337.9 159.82 L338.4 159.84 L338.9 159.87 L339.4 159.89 L339.9 159.92 L340.4 159.94 L340.9 159.96 L341.4 159.99 L341.9 160.01 L342.4 160.03 L342.9 160.06 L343.4 160.08 L343.9 160.1 L344.4 160.12 L344.9 160.15 L345.4 160.17 L345.9 160.19 L346.4 160.22 L346.9 160.24 L347.4 160.26 L347.9 160.28 L348.4 160.3 L348.9 160.33 L349.4 160.35 L349.9 160.37 L350.4 160.39 L350.9 160.41 L351.4 160.43 L351.9 160.46 L352.4 160.48 L352.9 160.5 L353.4 160.52 L353.9 160.54 L354.4 160.56 L354.9 160.58 L355.4 160.6 L355.9 160.62 L356.4 160.64 L356.9 160.66 L357.4 160.67 L357.9 160.69 L358.4 160.7 L358.9 160.71 L359.4 160.72 L359.9 160.73 L360.4 160.74 L360.9 160.75 L361.4 160.76 L361.9 160.77 L362.4 160.78 L362.9 160.79 L363.4 160.8 L363.9 160.81 L364.4 160.82 L364.9 160.83 L365.4 160.84 L365.9 160.85 L366.4 160.86 L366.9 160.86 L367.4 160.87 L367.9 160.88 L368.4 160.89 L368.9 160.89 L369.4 160.9 L369.9 160.91 L370.4 160.91 L370.9 160.92 L371.4 160.92 L371.9 160.93 L372.4 160.93 L372.9 160.93 L373.4 160.94 L373.9 160.94 L374.4 160.94 L374.9 160.95 L375.4 160.95 L375.9 160.95 L376.4 160.95 L376.9 160.95 L377.4 160.95 L377.9 160.95 L378.4 160.95 L378.9 160.95 L379.4 160.95 L379.9 160.94 L380.4 160.94 L380.9 160.93 L381.4 160.93 L381.9 160.92 L382.4 160.92 L382.9 160.91 L383.4 160.9 L383.9 160.89 L384.4 160.88 L384.9 160.87 L385.4 160.85 L385.9 160.82 L386.4 160.79 L386.9 160.76 L387.4 160.73 L387.9 160.7 L388.4 160.67 L388.9 160.63 L389.4 160.59 L389.9 160.55 L390.4 160.51 L390.9 160.46 L391.4 160.42 L391.9 160.36 L392.4 160.31 L392.9 160.25 L393.4 160.19 L393.9 160.12 L394.4 160.05 L394.9 159.97 L395.4 159.83 L395.9 159.68 L396.4 159.52 L396.9 159.35 L397.4 159.17 L397.9 158.97 L398.4 158.77 L398.9 158.56 L399.4 158.33 L399.9 158.08 L400.4 157.82 L400.9 157.54 L401.4 157.24 L401.9 156.92 L402.4 156.64 L402.9 156.34 L403.4 156.01 L403.9 155.66 L404.4 155.27 L404.9 154.84 L405.4 154.38 L405.9 153.89 L406.4 153.34 L406.9 152.76 L407.4 152.12 L407.9 151.44 L408.4 150.7 L408.9 149.91 L409.4 149.06 L409.9 148.15 L410.4 147.17 L410.9 146.13 L411.4 145.02 L411.9 143.84 L412.4 142.58 L412.9 141.25 L413.4 139.85 L413.9 138.37 L414.4 136.81 L414.9 135.18 L415.4 133.46 L415.9 131.67 L416.4 129.8 L416.9 127.86 L417.4 125.84 L417.9 123.75 L418.4 121.6 L418.9 119.38 L419.4 117.09 L419.9 114.75 L420.4 112.36 L420.9 109.93 L421.4 107.45 L421.9 104.94 L422.4 102.41 L422.9 99.86 L423.4 97.29 L423.9 94.73 L424.4 92.18 L424.9 89.64 L425.4 87.14 L425.9 84.67 L426.4 82.25 L426.9 79.89 L427.4 77.6 L427.9 75.4 L428.4 73.28 L428.9 71.27 L429.4 69.36 L429.9 67.58 L430.4 65.93 L430.9 64.42 L431.4 63.05 L431.9 61.82 L432.4 60.75 L432.9 59.83 L433.4 59.06 L433.9 58.43 L434.4 57.96 L434.9 57.62 L435.4 57.42 L435.9 57.33 L436.4 57.35 L436.9 57.47 L437.4 57.67 L437.9 57.94 L438.4 58.26 L438.9 58.61 L439.4 58.98 L439.9 59.35 L440.4 59.71 L440.9 60.03 L441.4 60.31 L441.9 60.54 L442.4 60.68 L442.9 60.75 L443.4 60.71 L443.9 60.57 L444.4 60.32 L444.9 59.94 L445.4 59.44 L445.9 58.8 L446.4 58.04 L446.9 57.13 L447.4 56.1 L447.9 54.94 L448.4 53.66 L448.9 52.25 L449.4 50.74 L449.9 49.13 L450.4 47.43 L450.9 45.66 L451.4 43.83 L451.9 41.95 L452.4 40.04 L452.9 38.13 L453.4 36.22 L453.9 34.35 L454.4 32.52 L454.9 30.76 L455.4 29.09 L455.9 27.54 L456.4 26.11 L456.9 24.84 L457.4 23.74 L457.9 22.83 L458.4 22.12 L458.9 21.64 L459.4 21.39 L459.9 21.38 L460.4 21.63 L460.9 22.14 L461.4 22.92 L461.9 23.98 L462.4 25.32 L462.9 26.93 L463.4 28.8 L463.9 30.93 L464.4 33.31 L464.9 35.91 L465.4 38.72 L465.9 41.73 L466.4 44.93 L466.9 48.28 L467.4 51.77 L467.9 55.39 L468.4 59.11 L468.9 62.91 L469.4 66.77 L469.9 70.68 L470.4 74.62 L470.9 78.56 L471.4 82.5 L471.9 86.42 L472.4 90.29 L472.9 94.11 L473.4 97.87 L473.9 101.54 L474.4 105.13 L474.9 108.62 L475.4 112 L475.9 115.27 L476.4 118.42 L476.9 121.45 L477.4 124.35 L477.9 127.11 L478.4 129.75 L478.9 132.25 L479.4 134.62 L479.9 136.85 L480.4 138.96 L480.9 140.94 L481.4 142.79 L481.9 144.52 L482.4 146.14 L482.9 147.64 L483.4 149.03 L483.9 150.32 L484.4 151.51 L484.9 152.61 L485.4 153.62 L485.9 154.55 L486.4 155.4 L486.9 156.18 L487.4 156.89 L487.9 157.54 L488.4 158.14 L488.9 158.67 L489.4 159.16 L489.9 159.61 L490.4 160.01 L490.9 160.38 L491.4 160.71 L491.9 161.01 L492.4 161.28 L492.9 161.53 L493.4 161.76 L493.9 161.96 L494.4 162.15 L494.9 162.32 L495.4 162.52 L495.9 162.71 L496.4 162.89 L496.9 163.06 L497.4 163.23 L497.9 163.38 L498.4 163.53 L498.9 163.67 L499.4 163.8 L499.9 163.93 L500.4 164.07 L500.9 164.21 L501.4 164.34 L501.9 164.47 L502.4 164.59 L502.9 164.72 L503.4 164.84 L503.9 164.96 L504.4 165.08 L504.9 165.19 L505.4 165.31 L505.9 165.5 L506.4 165.72 L506.9 165.94 L507.4 166.16 L507.9 166.37 L508.4 166.59 L508.9 166.8 L509.4 167.01 L509.9 167.23 L510.4 167.44 L510.9 167.51 L511.4 167.55 L511.9 167.59 L512.4 167.63 L512.9 167.67 L513.4 167.71 L513.9 167.75 L514.4 167.79 L514.9 167.82 L515.4 167.79 L515.9 167.76 L516.4 167.72 L516.9 167.69 L517.4 167.66 L517.9 167.62 L518.4 167.59 L518.9 167.55 L519.4 167.52 L519.9 167.48 L520.4 167.45 L520.9 167.43 L521.4 167.4 L521.9 167.37 L522.4 167.34 L522.9 167.32 L523.4 167.29 L523.9 167.26 L524.4 167.28 L524.9 167.39 L525.4 167.5 L525.9 167.61 L526.4 167.71 L526.9 167.82 L527.4 167.93 L527.9 168.03 L528.4 168.14 L528.9 168.25 L529.4 168.35 L529.9 168.46 L530.4 168.61 L530.9 168.77 L531.4 168.93 L531.9 169.09 L532.4 169.25 L532.9 169.41 L533.4 169.57 L533.9 169.73" fill="none" stroke="#ff8000" stroke-width="2.2" stroke-linejoin="round"/>
<rect x="329.9" y="10.9" width="205" height="160.8" fill="none" stroke="#000" stroke-width="1.35"/>
<path d="M381.15 171.7V168.1M432.4 171.7V168.1M483.65 171.7V168.1M355.52 171.7V169.4M406.77 171.7V169.4M458.02 171.7V169.4M509.27 171.7V169.4" stroke="#000" stroke-width="1.2" fill="none"/>
<text x="329.9" y="188.8" font-family="Liberation Serif, serif" font-size="15" text-anchor="middle" fill="#000" >74</text>
<text x="381.15" y="188.8" font-family="Liberation Serif, serif" font-size="15" text-anchor="middle" fill="#000" >72</text>
<text x="432.4" y="188.8" font-family="Liberation Serif, serif" font-size="15" text-anchor="middle" fill="#000" >70</text>
<text x="483.65" y="188.8" font-family="Liberation Serif, serif" font-size="15" text-anchor="middle" fill="#000" >68</text>
<text x="534.9" y="188.8" font-family="Liberation Serif, serif" font-size="15" text-anchor="middle" fill="#000" >66</text>
<text x="439.5" y="209" font-family="Liberation Serif, serif" font-size="17.35" text-anchor="middle" fill="#000" >Binding energy (eV)</text>
<text transform="translate(310.8 85.4) rotate(-90)" x="0" y="0" font-family="Liberation Serif, serif" font-size="17.2" text-anchor="middle" fill="#000" >Indensity (a.u.)</text>
<text x="301.5" y="24" font-family="Liberation Sans, sans-serif" font-size="20.5" text-anchor="middle" fill="#000" >(b)</text>
<text x="376.8" y="78.6" font-family="Liberation Sans, sans-serif" font-size="14" fill="#1a1aff">Br 3d<tspan font-size="7.8" dy="5.2">3/2</tspan></text>
<text x="475.0" y="67.5" font-family="Liberation Sans, sans-serif" font-size="14" fill="#ff1a1a">Br 3d<tspan font-size="7.8" dy="5.3">5/2</tspan></text>
<path d="M55.1 329.7 L56.13 317.41 L57.19 328.97 L58.14 318.89 L58.96 337.59 L60.07 325.52 L60.9 334.55 L61.99 326.08 L62.8 333.71 L63.87 325.02 L65.05 328.63 L65.91 316.83 L66.71 333.22 L68 327.19 L69.19 329.57 L70.47 328.47 L71.32 338.29 L72.4 326.99 L73.26 330.99 L74.17 331.77 L75.12 332.42 L76.35 328.94 L77.26 333.51 L78.2 329.58 L79.12 334.54 L80.4 325.59 L81.3 340.12 L82.22 330.99 L83.12 341.05 L84.13 331.54 L85.05 332.76 L86.15 333.04 L86.98 335.86 L88.09 334.47 L88.9 329.89 L89.96 332.04 L90.99 339.77 L92.26 323.16 L93.24 334.2 L94.08 329.43 L94.91 328.67 L96.17 327.59 L97.41 337.11 L98.49 322.31 L99.6 330.96 L100 322 L101.5 318 L102.5 312 L103.5 309 L104.5 303 L105.5 301 L106.6 300 L107.5 296 L108.5 290 L109.5 286.2 L110.5 289 L111.5 285 L112.1 278.1 L112.7 285 L113.5 288.5 L114.5 288 L115.8 288.5 L116.4 304.7 L117.5 300 L118.5 303 L119.5 305 L121 304.7 L121.6 311.7 L122.2 314 L123.5 320 L125.77 334.44 L126.79 334.8 L127.92 334.71 L129.04 331.83 L130.33 340.15 L131.29 328.35 L132.13 342.78 L133.18 325.47 L134.14 338.64 L135.2 335.59 L136.48 349.66 L137.39 335.95 L138.51 347.01 L139.46 335.03 L140.37 343.05 L141.45 338.76 L142.55 349.9 L143.55 335.14 L144.7 343.23 L145.98 334.16 L146.84 345.07 L147.88 336.48 L149.14 337.32 L149.95 336.73 L151 341.45 L152.11 332.59 L152.92 339.07 L153.99 330.87 L154.9 340.08 L156.16 331.56 L157.26 336.46 L158.15 329.03 L159 338.74 L160.07 332.71 L161.27 339.09 L162.48 330.28 L163.45 339.93 L164.49 324.16 L165.75 331.41 L166.63 325.64 L167.72 328.89 L168.57 317.61 L169.48 315.74 L170 318 L171.3 300 L172.3 292 L173.5 284 L174.5 279 L175.5 276 L176.5 272 L177.5 266 L178.5 261 L179.3 257 L180.2 252 L181.2 250 L182.2 251.5 L183.2 250 L184.2 252 L184.8 258 L185.4 266 L186 276 L186.6 285 L187.3 295 L188.2 308 L189.2 322 L190.63 333.72 L191.63 335.25 L192.57 346.64 L193.38 344.29 L194.39 351.97 L195.38 349.4 L196.58 363.4 L197.76 362.18 L199.02 375.57 L200.17 365.93 L201.4 371.92 L202.27 368.02 L203.41 376.87 L204.28 372.57 L205.33 375.62 L206.27 368.03 L207.16 374.87 L208.21 371.99 L209.33 371.29 L210.4 373.34 L211.47 375.82 L212.38 373.36 L213.22 380.6 L214.4 375.4 L215.61 379.57 L216.57 369.46 L217.58 376.66 L218.42 372.48 L219.56 379.08 L220.47 374.35 L221.63 375.54 L222.61 374 L223.77 381.11 L225.02 371.14 L225.98 383.53 L226.91 374.69 L227.9 377.98 L229.1 369.35 L229.99 373.82 L230.8 371.76 L232.09 385.78 L232.93 372.36 L233.77 376.74 L234.89 376.85 L235.96 375.2 L237.24 373.11" fill="none" stroke="#000" stroke-width="2.8" stroke-linejoin="round"/>
<path d="M54.7 334.15 L55.2 334.29 L55.7 334.42 L56.2 334.55 L56.7 334.68 L57.2 334.81 L57.7 334.95 L58.2 335.08 L58.7 335.21 L59.2 335.34 L59.7 335.48 L60.2 335.61 L60.7 335.74 L61.2 335.87 L61.7 336 L62.2 336.14 L62.7 336.27 L63.2 336.4 L63.7 336.53 L64.2 336.67 L64.7 336.8 L65.2 336.93 L65.7 337.06 L66.2 337.19 L66.7 337.33 L67.2 337.46 L67.7 337.59 L68.2 337.72 L68.7 337.86 L69.2 337.99 L69.7 338.12 L70.2 338.25 L70.7 338.39 L71.2 338.53 L71.7 338.66 L72.2 338.8 L72.7 338.93 L73.2 339.07 L73.7 339.21 L74.2 339.34 L74.7 339.48 L75.2 339.61 L75.7 339.75 L76.2 339.89 L76.7 340.02 L77.2 340.16 L77.7 340.29 L78.2 340.43 L78.7 340.57 L79.2 340.7 L79.7 340.84 L80.2 340.97 L80.7 341.11 L81.2 341.25 L81.7 341.38 L82.2 341.52 L82.7 341.66 L83.2 341.79 L83.7 341.93 L84.2 342.1 L84.7 342.28 L85.2 342.45 L85.7 342.62 L86.2 342.79 L86.7 342.96 L87.2 343.13 L87.7 343.3 L88.2 343.47 L88.7 343.64 L89.2 343.81 L89.7 343.98 L90.2 344.15 L90.7 344.32 L91.2 344.49 L91.7 344.66 L92.2 344.84 L92.7 345.01 L93.2 345.18 L93.7 345.35 L94.2 345.52 L94.7 345.69 L95.2 345.86 L95.7 346.03 L96.2 346.2 L96.7 346.37 L97.2 346.54 L97.7 346.71 L98.2 346.88 L98.7 347.05 L99.2 347.22 L99.7 347.4 L100.2 347.57 L100.7 347.74 L101.2 347.92 L101.7 348.09 L102.2 348.27 L102.7 348.44 L103.2 348.62 L103.7 348.79 L104.2 348.97 L104.7 349.15 L105.2 349.32 L105.7 349.5 L106.2 349.67 L106.7 349.85 L107.2 350.02 L107.7 350.2 L108.2 350.38 L108.7 350.55 L109.2 350.73 L109.7 350.9 L110.2 351.08 L110.7 351.25 L111.2 351.43 L111.7 351.61 L112.2 351.78 L112.7 351.96 L113.2 352.13 L113.7 352.31 L114.2 352.48 L114.7 352.66 L115.2 352.83 L115.7 352.99 L116.2 353.14 L116.7 353.3 L117.2 353.46 L117.7 353.61 L118.2 353.77 L118.7 353.93 L119.2 354.08 L119.7 354.24 L120.2 354.4 L120.7 354.55 L121.2 354.71 L121.7 354.87 L122.2 355.02 L122.7 355.18 L123.2 355.34 L123.7 355.49 L124.2 355.65 L124.7 355.81 L125.2 355.96 L125.7 356.11 L126.2 356.26 L126.7 356.41 L127.2 356.56 L127.7 356.71 L128.2 356.86 L128.7 357.01 L129.2 357.16 L129.7 357.31 L130.2 357.46 L130.7 357.61 L131.2 357.76 L131.7 357.91 L132.2 358.06 L132.7 358.21 L133.2 358.36 L133.7 358.51 L134.2 358.66 L134.7 358.82 L135.2 358.98 L135.7 359.13 L136.2 359.29 L136.7 359.45 L137.2 359.6 L137.7 359.76 L138.2 359.92 L138.7 360.07 L139.2 360.23 L139.7 360.39 L140.2 360.54 L140.7 360.7 L141.2 360.86 L141.7 361.01 L142.2 361.17 L142.7 361.33 L143.2 361.48 L143.7 361.64 L144.2 361.8 L144.7 361.96 L145.2 362.11 L145.7 362.27 L146.2 362.42 L146.7 362.57 L147.2 362.71 L147.7 362.86 L148.2 363.01 L148.7 363.16 L149.2 363.3 L149.7 363.45 L150.2 363.6 L150.7 363.75 L151.2 363.89 L151.7 364.04 L152.2 364.19 L152.7 364.34 L153.2 364.48 L153.7 364.63 L154.2 364.78 L154.7 364.93 L155.2 365.08 L155.7 365.22 L156.2 365.37 L156.7 365.52 L157.2 365.66 L157.7 365.8 L158.2 365.95 L158.7 366.09 L159.2 366.24 L159.7 366.38 L160.2 366.52 L160.7 366.67 L161.2 366.81 L161.7 366.96 L162.2 367.1 L162.7 367.25 L163.2 367.39 L163.7 367.53 L164.2 367.68 L164.7 367.82 L165.2 367.97 L165.7 368.11 L166.2 368.26 L166.7 368.4 L167.2 368.5 L167.7 368.6 L168.2 368.7 L168.7 368.8 L169.2 368.9 L169.7 369 L170.2 369.1 L170.7 369.19 L171.2 369.29 L171.7 369.39 L172.2 369.49 L172.7 369.59 L173.2 369.69 L173.7 369.79 L174.2 369.89 L174.7 369.99 L175.2 370.09 L175.7 370.19 L176.2 370.29 L176.7 370.39 L177.2 370.49 L177.7 370.58 L178.2 370.68 L178.7 370.78 L179.2 370.88 L179.7 370.98 L180.2 371.08 L180.7 371.18 L181.2 371.28 L181.7 371.34 L182.2 371.39 L182.7 371.43 L183.2 371.48 L183.7 371.53 L184.2 371.58 L184.7 371.63 L185.2 371.67 L185.7 371.72 L186.2 371.77 L186.7 371.82 L187.2 371.87 L187.7 371.91 L188.2 371.96 L188.7 372.01 L189.2 372.06 L189.7 372.11 L190.2 372.15 L190.7 372.2 L191.2 372.25 L191.7 372.3 L192.2 372.35 L192.7 372.39 L193.2 372.44 L193.7 372.49 L194.2 372.51 L194.7 372.52 L195.2 372.52 L195.7 372.53 L196.2 372.54 L196.7 372.55 L197.2 372.56 L197.7 372.57 L198.2 372.58 L198.7 372.59 L199.2 372.6 L199.7 372.61 L200.2 372.61 L200.7 372.62 L201.2 372.63 L201.7 372.64 L202.2 372.65 L202.7 372.66 L203.2 372.67 L203.7 372.68 L204.2 372.69 L204.7 372.69 L205.2 372.7 L205.7 372.7 L206.2 372.71 L206.7 372.71 L207.2 372.71 L207.7 372.72 L208.2 372.72 L208.7 372.72 L209.2 372.73 L209.7 372.73 L210.2 372.73 L210.7 372.74 L211.2 372.74 L211.7 372.74 L212.2 372.75 L212.7 372.75 L213.2 372.75 L213.7 372.76 L214.2 372.76 L214.7 372.76 L215.2 372.77 L215.7 372.77 L216.2 372.77 L216.7 372.78 L217.2 372.78 L217.7 372.78 L218.2 372.79 L218.7 372.79 L219.2 372.79 L219.7 372.8 L220.2 372.8 L220.7 372.81 L221.2 372.81 L221.7 372.82 L222.2 372.83 L222.7 372.83 L223.2 372.84 L223.7 372.84 L224.2 372.85 L224.7 372.86 L225.2 372.86 L225.7 372.87 L226.2 372.88 L226.7 372.88 L227.2 372.89 L227.7 372.89 L228.2 372.9 L228.7 372.91 L229.2 372.91 L229.7 372.92 L230.2 372.92 L230.7 372.93 L231.2 372.94 L231.7 372.94 L232.2 372.95 L232.7 372.95 L233.2 372.96 L233.7 372.97 L234.2 372.97 L234.7 372.98 L235.2 372.98 L235.7 372.99 L236.2 373" fill="none" stroke="#1a8a1a" stroke-width="1.6"/>
<path d="M84.2 342.06 L84.7 342.22 L85.2 342.39 L85.7 342.55 L86.2 342.72 L86.7 342.89 L87.2 343.05 L87.7 343.21 L88.2 343.38 L88.7 343.54 L89.2 343.7 L89.7 343.87 L90.2 344.03 L90.7 344.19 L91.2 344.35 L91.7 344.51 L92.2 344.67 L92.7 344.83 L93.2 344.98 L93.7 345.14 L94.2 345.29 L94.7 345.45 L95.2 345.6 L95.7 345.75 L96.2 345.91 L96.7 346.06 L97.2 346.2 L97.7 346.35 L98.2 346.5 L98.7 346.64 L99.2 346.78 L99.7 346.93 L100.2 347.06 L100.7 347.21 L101.2 347.35 L101.7 347.49 L102.2 347.62 L102.7 347.76 L103.2 347.89 L103.7 348.02 L104.2 348.15 L104.7 348.27 L105.2 348.39 L105.7 348.51 L106.2 348.63 L106.7 348.74 L107.2 348.85 L107.7 348.96 L108.2 349.06 L108.7 349.16 L109.2 349.26 L109.7 349.35 L110.2 349.44 L110.7 349.53 L111.2 349.61 L111.7 349.69 L112.2 349.76 L112.7 349.83 L113.2 349.89 L113.7 349.95 L114.2 350.01 L114.7 350.06 L115.2 350.1 L115.7 350.12 L116.2 350.14 L116.7 350.15 L117.2 350.16 L117.7 350.16 L118.2 350.15 L118.7 350.14 L119.2 350.12 L119.7 350.1 L120.2 350.07 L120.7 350.04 L121.2 350 L121.7 349.95 L122.2 349.9 L122.7 349.84 L123.2 349.78 L123.7 349.71 L124.2 349.63 L124.7 349.55 L125.2 349.46 L125.7 349.35 L126.2 349.25 L126.7 349.13 L127.2 349.01 L127.7 348.89 L128.2 348.76 L128.7 348.62 L129.2 348.48 L129.7 348.33 L130.2 348.18 L130.7 348.02 L131.2 347.85 L131.7 347.69 L132.2 347.51 L132.7 347.34 L133.2 347.15 L133.7 346.97 L134.2 346.78 L134.7 346.59 L135.2 346.4 L135.7 346.21 L136.2 346.01 L136.7 345.82 L137.2 345.62 L137.7 345.41 L138.2 345.21 L138.7 345 L139.2 344.8 L139.7 344.59 L140.2 344.38 L140.7 344.18 L141.2 343.97 L141.7 343.77 L142.2 343.56 L142.7 343.36 L143.2 343.16 L143.7 342.97 L144.2 342.77 L144.7 342.59 L145.2 342.4 L145.7 342.22 L146.2 342.04 L146.7 341.86 L147.2 341.68 L147.7 341.51 L148.2 341.35 L148.7 341.2 L149.2 341.05 L149.7 340.91 L150.2 340.78 L150.7 340.66 L151.2 340.54 L151.7 340.44 L152.2 340.35 L152.7 340.26 L153.2 340.19 L153.7 340.13 L154.2 340.07 L154.7 340.03 L155.2 340 L155.7 339.99 L156.2 339.98 L156.7 339.99 L157.2 340.01 L157.7 340.04 L158.2 340.08 L158.7 340.14 L159.2 340.21 L159.7 340.29 L160.2 340.39 L160.7 340.5 L161.2 340.62 L161.7 340.76 L162.2 340.91 L162.7 341.09 L163.2 341.28 L163.7 341.5 L164.2 341.73 L164.7 341.98 L165.2 342.25 L165.7 342.55 L166.2 342.85 L166.7 343.18 L167.2 343.48 L167.7 343.8 L168.2 344.14 L168.7 344.49 L169.2 344.85 L169.7 345.23 L170.2 345.63 L170.7 346.04 L171.2 346.46 L171.7 346.9 L172.2 347.35 L172.7 347.81 L173.2 348.28 L173.7 348.76 L174.2 349.25 L174.7 349.74 L175.2 350.25 L175.7 350.76 L176.2 351.27 L176.7 351.8 L177.2 352.32 L177.7 352.85 L178.2 353.38 L178.7 353.92 L179.2 354.46 L179.7 354.99 L180.2 355.53 L180.7 356.07 L181.2 356.61 L181.7 357.1 L182.2 357.58 L182.7 358.06 L183.2 358.53 L183.7 359 L184.2 359.47 L184.7 359.93 L185.2 360.38 L185.7 360.83 L186.2 361.28 L186.7 361.71 L187.2 362.14 L187.7 362.56 L188.2 362.98 L188.7 363.38 L189.2 363.78 L189.7 364.17 L190.2 364.56 L190.7 364.93 L191.2 365.29 L191.7 365.65 L192.2 366 L192.7 366.34 L193.2 366.67 L193.7 366.99 L194.2 367.27 L194.7 367.53 L195.2 367.79 L195.7 368.03 L196.2 368.27 L196.7 368.5 L197.2 368.72 L197.7 368.93 L198.2 369.14 L198.7 369.33 L199.2 369.52 L199.7 369.7 L200.2 369.88 L200.7 370.04 L201.2 370.2 L201.7 370.35 L202.2 370.5 L202.7 370.64 L203.2 370.77 L203.7 370.89 L204.2 371.01 L204.7 371.13 L205.2 371.23 L205.7 371.33" fill="none" stroke="#ff1aff" stroke-width="1.85" stroke-dasharray="3.8 2.8"/>
<path d="M80.2 339.98 L80.7 340.07 L81.2 340.16 L81.7 340.24 L82.2 340.32 L82.7 340.39 L83.2 340.46 L83.7 340.52 L84.2 340.6 L84.7 340.68 L85.2 340.73 L85.7 340.78 L86.2 340.81 L86.7 340.82 L87.2 340.82 L87.7 340.79 L88.2 340.74 L88.7 340.66 L89.2 340.56 L89.7 340.42 L90.2 340.25 L90.7 340.04 L91.2 339.79 L91.7 339.49 L92.2 339.15 L92.7 338.76 L93.2 338.31 L93.7 337.81 L94.2 337.24 L94.7 336.62 L95.2 335.92 L95.7 335.16 L96.2 334.34 L96.7 333.43 L97.2 332.46 L97.7 331.41 L98.2 330.3 L98.7 329.1 L99.2 327.84 L99.7 326.51 L100.2 325.12 L100.7 323.67 L101.2 322.16 L101.7 320.6 L102.2 319 L102.7 317.37 L103.2 315.7 L103.7 314.02 L104.2 312.33 L104.7 310.64 L105.2 308.96 L105.7 307.32 L106.2 305.71 L106.7 304.16 L107.2 302.67 L107.7 301.27 L108.2 299.97 L108.7 298.77 L109.2 297.7 L109.7 296.76 L110.2 295.98 L110.7 295.36 L111.2 294.91 L111.7 294.64 L112.2 294.55 L112.7 294.65 L113.2 294.94 L113.7 295.41 L114.2 296.07 L114.7 296.91 L115.2 297.91 L115.7 299.06 L116.2 300.35 L116.7 301.78 L117.2 303.34 L117.7 304.99 L118.2 306.75 L118.7 308.58 L119.2 310.48 L119.7 312.42 L120.2 314.41 L120.7 316.42 L121.2 318.44 L121.7 320.46 L122.2 322.48 L122.7 324.47 L123.2 326.43 L123.7 328.36 L124.2 330.24 L124.7 332.06 L125.2 333.83 L125.7 335.53 L126.2 337.17 L126.7 338.74 L127.2 340.24 L127.7 341.66 L128.2 343.01 L128.7 344.29 L129.2 345.5 L129.7 346.64 L130.2 347.7 L130.7 348.7 L131.2 349.64 L131.7 350.51 L132.2 351.32 L132.7 352.08 L133.2 352.78 L133.7 353.43 L134.2 354.04 L134.7 354.61 L135.2 355.14 L135.7 355.63 L136.2 356.09 L136.7 356.52 L137.2 356.92 L137.7 357.29 L138.2 357.64 L138.7 357.97 L139.2 358.28 L139.7 358.58 L140.2 358.86 L140.7 359.12 L141.2 359.38 L141.7 359.62 L142.2 359.85 L142.7 360.08 L143.2 360.3 L143.7 360.51 L144.2 360.72 L144.7 360.92 L145.2 361.12 L145.7 361.31 L146.2 361.5 L146.7 361.68 L147.2 361.86 L147.7 362.03 L148.2 362.2 L148.7 362.38 L149.2 362.55 L149.7 362.71 L150.2 362.88 L150.7 363.05 L151.2 363.21 L151.7 363.38 L152.2 363.54 L152.7 363.71 L153.2 363.87 L153.7 364.03 L154.2 364.19 L154.7 364.35 L155.2 364.51 L155.7 364.67 L156.2 364.83 L156.7 364.99 L157.2 365.14 L157.7 365.3 L158.2 365.45 L158.7 365.61 L159.2 365.76 L159.7 365.92" fill="none" stroke="#1a1aff" stroke-width="1.85" stroke-dasharray="3.8 2.8"/>
<path d="M150.2 362.72 L150.7 362.84 L151.2 362.96 L151.7 363.07 L152.2 363.19 L152.7 363.3 L153.2 363.4 L153.7 363.51 L154.2 363.6 L154.7 363.7 L155.2 363.78 L155.7 363.86 L156.2 363.93 L156.7 363.99 L157.2 364.03 L157.7 364.06 L158.2 364.06 L158.7 364.05 L159.2 364 L159.7 363.93 L160.2 363.81 L160.7 363.65 L161.2 363.44 L161.7 363.17 L162.2 362.83 L162.7 362.4 L163.2 361.89 L163.7 361.27 L164.2 360.54 L164.7 359.68 L165.2 358.68 L165.7 357.53 L166.2 356.2 L166.7 354.7 L167.2 352.96 L167.7 351.02 L168.2 348.87 L168.7 346.5 L169.2 343.91 L169.7 341.11 L170.2 338.09 L170.7 334.86 L171.2 331.43 L171.7 327.82 L172.2 324.06 L172.7 320.16 L173.2 316.17 L173.7 312.11 L174.2 308.02 L174.7 303.96 L175.2 299.97 L175.7 296.09 L176.2 292.39 L176.7 288.92 L177.2 285.74 L177.7 282.9 L178.2 280.46 L178.7 278.45 L179.2 276.94 L179.7 275.94 L180.2 275.48 L180.7 275.57 L181.2 276.13 L181.7 277.12 L182.2 278.53 L182.7 280.36 L183.2 282.57 L183.7 285.13 L184.2 288.01 L184.7 291.15 L185.2 294.53 L185.7 298.08 L186.2 301.78 L186.7 305.58 L187.2 309.43 L187.7 313.31 L188.2 317.18 L188.7 321 L189.2 324.75 L189.7 328.41 L190.2 331.94 L190.7 335.33 L191.2 338.56 L191.7 341.63 L192.2 344.53 L192.7 347.24 L193.2 349.77 L193.7 352.11 L194.2 354.25 L194.7 356.19 L195.2 357.96 L195.7 359.57 L196.2 361.03 L196.7 362.33 L197.2 363.5 L197.7 364.53 L198.2 365.46 L198.7 366.27 L199.2 366.99 L199.7 367.61 L200.2 368.16 L200.7 368.64 L201.2 369.06 L201.7 369.43 L202.2 369.74 L202.7 370.02 L203.2 370.25 L203.7 370.46 L204.2 370.64 L204.7 370.8 L205.2 370.93 L205.7 371.05 L206.2 371.15 L206.7 371.24 L207.2 371.32 L207.7 371.39 L208.2 371.45 L208.7 371.51 L209.2 371.56 L209.7 371.61" fill="none" stroke="#ff1a1a" stroke-width="1.85" stroke-dasharray="3.8 2.8"/>
<path d="M54.7 333.79 L55.2 333.91 L55.7 334.04 L56.2 334.17 L56.7 334.29 L57.2 334.42 L57.7 334.55 L58.2 334.67 L58.7 334.8 L59.2 334.92 L59.7 335.05 L60.2 335.17 L60.7 335.3 L61.2 335.42 L61.7 335.55 L62.2 335.67 L62.7 335.79 L63.2 335.92 L63.7 336.04 L64.2 336.16 L64.7 336.29 L65.2 336.41 L65.7 336.53 L66.2 336.65 L66.7 336.77 L67.2 336.9 L67.7 337.02 L68.2 337.14 L68.7 337.26 L69.2 337.38 L69.7 337.5 L70.2 337.62 L70.7 337.74 L71.2 337.86 L71.7 337.98 L72.2 338.1 L72.7 338.22 L73.2 338.34 L73.7 338.46 L74.2 338.58 L74.7 338.69 L75.2 338.81 L75.7 338.92 L76.2 339.03 L76.7 339.15 L77.2 339.26 L77.7 339.36 L78.2 339.47 L78.7 339.57 L79.2 339.67 L79.7 339.77 L80.2 339.87 L80.7 339.96 L81.2 340.04 L81.7 340.12 L82.2 340.2 L82.7 340.27 L83.2 340.33 L83.7 340.39 L84.2 340.46 L84.7 340.53 L85.2 340.58 L85.7 340.62 L86.2 340.65 L86.7 340.65 L87.2 340.64 L87.7 340.61 L88.2 340.55 L88.7 340.46 L89.2 340.35 L89.7 340.2 L90.2 340.02 L90.7 339.8 L91.2 339.53 L91.7 339.23 L92.2 338.87 L92.7 338.47 L93.2 338.01 L93.7 337.49 L94.2 336.91 L94.7 336.26 L95.2 335.55 L95.7 334.77 L96.2 333.92 L96.7 333 L97.2 332 L97.7 330.93 L98.2 329.78 L98.7 328.57 L99.2 327.28 L99.7 325.91 L100.2 324.49 L100.7 323 L101.2 321.46 L101.7 319.86 L102.2 318.22 L102.7 316.54 L103.2 314.83 L103.7 313.1 L104.2 311.36 L104.7 309.62 L105.2 307.89 L105.7 306.18 L106.2 304.51 L106.7 302.9 L107.2 301.35 L107.7 299.87 L108.2 298.49 L108.7 297.22 L109.2 296.07 L109.7 295.05 L110.2 294.18 L110.7 293.46 L111.2 292.91 L111.7 292.54 L112.2 292.35 L112.7 292.34 L113.2 292.51 L113.7 292.87 L114.2 293.41 L114.7 294.12 L115.2 294.99 L115.7 295.99 L116.2 297.15 L116.7 298.43 L117.2 299.82 L117.7 301.32 L118.2 302.91 L118.7 304.57 L119.2 306.29 L119.7 308.06 L120.2 309.85 L120.7 311.67 L121.2 313.49 L121.7 315.3 L122.2 317.1 L122.7 318.88 L123.2 320.62 L123.7 322.31 L124.2 323.95 L124.7 325.54 L125.2 327.05 L125.7 328.5 L126.2 329.87 L126.7 331.17 L127.2 332.4 L127.7 333.54 L128.2 334.61 L128.7 335.59 L129.2 336.5 L129.7 337.33 L130.2 338.09 L130.7 338.78 L131.2 339.39 L131.7 339.94 L132.2 340.42 L132.7 340.84 L133.2 341.2 L133.7 341.51 L134.2 341.77 L134.7 341.99 L135.2 342.16 L135.7 342.3 L136.2 342.4 L136.7 342.46 L137.2 342.49 L137.7 342.49 L138.2 342.47 L138.7 342.43 L139.2 342.37 L139.7 342.29 L140.2 342.19 L140.7 342.08 L141.2 341.96 L141.7 341.83 L142.2 341.69 L142.7 341.54 L143.2 341.39 L143.7 341.24 L144.2 341.08 L144.7 340.92 L145.2 340.76 L145.7 340.59 L146.2 340.43 L146.7 340.26 L147.2 340.09 L147.7 339.93 L148.2 339.77 L148.7 339.62 L149.2 339.47 L149.7 339.33 L150.2 339.19 L150.7 339.06 L151.2 338.93 L151.7 338.81 L152.2 338.7 L152.7 338.59 L153.2 338.49 L153.7 338.4 L154.2 338.31 L154.7 338.23 L155.2 338.15 L155.7 338.08 L156.2 338.01 L156.7 337.94 L157.2 337.86 L157.7 337.78 L158.2 337.7 L158.7 337.61 L159.2 337.5 L159.7 337.37 L160.2 337.22 L160.7 337.03 L161.2 336.81 L161.7 336.54 L162.2 336.22 L162.7 335.83 L163.2 335.38 L163.7 334.84 L164.2 334.2 L164.7 333.46 L165.2 332.59 L165.7 331.59 L166.2 330.44 L166.7 329.13 L167.2 327.6 L167.7 325.88 L168.2 323.97 L168.7 321.86 L169.2 319.54 L169.7 317.03 L170.2 314.31 L170.7 311.39 L171.2 308.3 L171.7 305.03 L172.2 301.62 L172.7 298.09 L173.2 294.47 L173.7 290.79 L174.2 287.1 L174.7 283.44 L175.2 279.86 L175.7 276.4 L176.2 273.12 L176.7 270.08 L177.2 267.33 L177.7 264.92 L178.2 262.91 L178.7 261.35 L179.2 260.27 L179.7 259.72 L180.2 259.7 L180.7 260.23 L181.2 261.24 L181.7 262.66 L182.2 264.5 L182.7 266.76 L183.2 269.41 L183.7 272.4 L184.2 275.69 L184.7 279.25 L185.2 283.03 L185.7 286.99 L186.2 291.09 L186.7 295.28 L187.2 299.52 L187.7 303.77 L188.2 308.01 L188.7 312.2 L189.2 316.3 L189.7 320.29 L190.2 324.16 L190.7 327.88 L191.2 331.44 L191.7 334.82 L192.2 338.01 L192.7 341.02 L193.2 343.83 L193.7 346.45 L194.2 348.85 L194.7 351.05 L195.2 353.07 L195.7 354.92 L196.2 356.6 L196.7 358.13 L197.2 359.51 L197.7 360.75 L198.2 361.87 L198.7 362.87 L199.2 363.77 L199.7 364.57 L200.2 365.29 L200.7 365.93 L201.2 366.5 L201.7 367 L202.2 367.46 L202.7 367.86 L203.2 368.22 L203.7 368.55 L204.2 368.84 L204.7 369.11 L205.2 369.34 L205.7 369.55 L206.2 369.74 L206.7 369.92 L207.2 370.08 L207.7 370.23 L208.2 370.36 L208.7 370.49 L209.2 370.6 L209.7 370.71 L210.2 370.81 L210.7 370.91 L211.2 371 L211.7 371.08 L212.2 371.16 L212.7 371.23 L213.2 371.3 L213.7 371.36 L214.2 371.43 L214.7 371.48 L215.2 371.54 L215.7 371.59 L216.2 371.64 L216.7 371.69 L217.2 371.73 L217.7 371.77 L218.2 371.81 L218.7 371.85 L219.2 371.89 L219.7 371.92 L220.2 371.95 L220.7 371.99 L221.2 372.02 L221.7 372.05 L222.2 372.08 L222.7 372.11 L223.2 372.14 L223.7 372.16 L224.2 372.19 L224.7 372.21 L225.2 372.23 L225.7 372.26 L226.2 372.28 L226.7 372.3 L227.2 372.32 L227.7 372.34 L228.2 372.36 L228.7 372.38 L229.2 372.39 L229.7 372.41 L230.2 372.43 L230.7 372.44 L231.2 372.46 L231.7 372.48 L232.2 372.49 L232.7 372.51 L233.2 372.52 L233.7 372.53 L234.2 372.55 L234.7 372.56 L235.2 372.58 L235.7 372.59 L236.2 372.6" fill="none" stroke="#ff8000" stroke-width="1.65" stroke-linejoin="round"/>
<path d="M236.5 371.9 L238.3 370.5 L239.5 372.6 L240.7 372.4 L241.8 375.5 L243 374.8 L244.2 372.8 L245.3 373.6 L246.5 376.8 L247.6 377.1 L248.6 380.8 L249.4 379.4 L250.2 384.5 L250.6 386.3 L251.2 381.7" fill="none" stroke="#ff8000" stroke-width="2.5" stroke-linejoin="round"/>
<rect x="54.2" y="232.4" width="198" height="155.3" fill="none" stroke="#000" stroke-width="1.35"/>
<path d="M68.33 387.7V384.1M96.6 387.7V384.1M124.87 387.7V384.1M153.14 387.7V384.1M181.41 387.7V384.1M209.67 387.7V384.1M237.94 387.7V384.1M82.47 387.7V385.4M110.74 387.7V385.4M139 387.7V385.4M167.27 387.7V385.4M195.54 387.7V385.4M223.81 387.7V385.4M252.08 387.7V385.4" stroke="#000" stroke-width="1.2" fill="none"/>
<text x="68.33" y="403.9" font-family="Liberation Serif, serif" font-size="14.8" text-anchor="middle" fill="#000" >592</text>
<text x="96.6" y="403.9" font-family="Liberation Serif, serif" font-size="14.8" text-anchor="middle" fill="#000" >588</text>
<text x="124.87" y="403.9" font-family="Liberation Serif, serif" font-size="14.8" text-anchor="middle" fill="#000" >584</text>
<text x="153.14" y="403.9" font-family="Liberation Serif, serif" font-size="14.8" text-anchor="middle" fill="#000" >580</text>
<text x="181.41" y="403.9" font-family="Liberation Serif, serif" font-size="14.8" text-anchor="middle" fill="#000" >576</text>
<text x="209.67" y="403.9" font-family="Liberation Serif, serif" font-size="14.8" text-anchor="middle" fill="#000" >572</text>
<text x="237.94" y="403.9" font-family="Liberation Serif, serif" font-size="14.8" text-anchor="middle" fill="#000" >568</text>
<text x="153.05" y="423.2" font-family="Liberation Serif, serif" font-size="16.85" text-anchor="middle" fill="#000" >Binding energy (eV)</text>
<text transform="translate(39.8 309.7) rotate(-90)" x="0" y="0" font-family="Liberation Serif, serif" font-size="16.6" text-anchor="middle" fill="#000" >Indensity (a.u.)</text>
<text x="17.3" y="241.1" font-family="Liberation Sans, sans-serif" font-size="20.5" text-anchor="middle" fill="#000" >(c)</text>
<text x="60.0" y="291.6" font-family="Liberation Sans, sans-serif" font-size="13" fill="#1a1aff">Cr 2p<tspan font-size="8" dy="5.0">1/2</tspan></text>
<text x="193.4" y="300.8" font-family="Liberation Sans, sans-serif" font-size="13" fill="#ff1a1a">Cr 2p<tspan font-size="8" dy="5.0">3/2</tspan></text>
<path d="M336.7 377.88 L337.2 378.05 L337.7 377.32 L338.2 377.27 L338.7 377.68 L339.2 378.15 L339.7 377.67 L340.2 377.12 L340.7 377.24 L341.2 377.47 L341.7 377.8 L342.2 377.46 L342.7 377.32 L343.2 377.35 L343.7 377.47 L344.2 377.14 L344.7 377.38 L345.2 377.46 L345.7 377.91 L346.2 377.31 L346.7 377.64 L347.2 376.94 L347.7 377.57 L348.2 377.31 L348.7 377.05 L349.2 377.21 L349.7 377.51 L350.2 377.07 L350.7 377.51 L351.2 377.66 L351.7 377.67 L352.2 377.65 L352.7 376.64 L353.2 377.17 L353.7 376.79 L354.2 377.33 L354.7 377 L355.2 377.03 L355.7 377.09 L356.2 376.7 L356.7 376.91 L357.2 376.6 L357.7 377.54 L358.2 376.64 L358.7 376.77 L359.2 376.13 L359.7 376.2 L360.2 376.39 L360.7 376.92 L361.2 376.88 L361.7 376.68 L362.2 376.33 L362.7 377.15 L363.2 376.13 L363.7 376.16 L364.2 376.58 L364.7 376.03 L365.2 376.43 L365.7 376.63 L366.2 376.23 L366.7 376.36 L367.2 376.19 L367.7 375.9 L368.2 374.99 L368.7 375.62 L369.2 375.98 L369.7 375.37 L370.2 375.69 L370.7 375.9 L371.2 376.23 L371.7 375.24 L372.2 375.47 L372.7 375.67 L373.2 375.7 L373.7 374.98 L374.2 376.02 L374.7 375.02 L375.2 375.6 L375.7 375.07 L376.2 375.19 L376.7 375.53 L377.2 375.1 L377.7 374.8 L378.2 374.29 L378.7 374.3 L379.2 373.9 L379.7 374.96 L380.2 373.59 L380.7 373.09 L381.2 374.39 L381.7 374.1 L382.2 373.36 L382.7 373.59 L383.2 372.82 L383.7 372.7 L384.2 372.85 L384.7 372.59 L385.2 372.05 L385.7 372.52 L386.2 371.94 L386.7 371.45 L387.2 370.7 L387.7 370.85 L388.2 370.36 L388.7 370.11 L389.2 370.05 L389.7 369.2 L390.2 369.1 L390.7 368.87 L391.2 368.28 L391.7 368.51 L392.2 366.63 L392.7 366.72 L393.2 365.81 L393.7 365.66 L394.2 365.99 L394.7 363.95 L395.2 363.79 L395.7 363.47 L396.2 362.59 L396.7 362.15 L397.2 360.54 L397.7 360.63 L398.2 359.13 L398.7 358.17 L399.2 357.88 L399.7 356.9 L400.2 355.48 L400.7 354.39 L401.2 353.51 L401.7 352.43 L402.2 351.17 L402.7 349.61 L403.2 347.84 L403.7 347.73 L404.2 345.9 L404.7 343.91 L405.2 342.24 L405.7 340.93 L406.2 339.34 L406.7 336.99 L407.2 336.4 L407.7 334.17 L408.2 331.96 L408.7 330.18 L409.2 328.06 L409.7 326.2 L410.2 323.67 L410.7 321.78 L411.2 319.55 L411.7 316.51 L412.2 314.02 L412.7 311.38 L413.2 309.06 L413.7 306.31 L414.2 303.95 L414.7 301.4 L415.2 298.81 L415.7 295.52 L416.2 293.59 L416.7 290.4 L417.2 287.75 L417.7 284.91 L418.2 281.7 L418.7 279.82 L419.2 276.47 L419.7 274.87 L420.2 271.93 L420.7 269.95 L421.2 267.17 L421.7 264.78 L422.2 262.69 L422.7 259.92 L423.2 258.29 L423.7 255.61 L424.2 253.73 L424.7 251.5 L425.2 250.11 L425.7 248.46 L426.2 246.47 L426.7 244.74 L427.2 243.86 L427.7 242.87 L428.2 241.68 L428.7 240.57 L429.2 240.01 L429.7 239.69 L430.2 238.55 L430.7 239.12 L431.2 239.83 L431.7 239.05 L432.2 239.74 L432.7 240.86 L433.2 241.11 L433.7 241.89 L434.2 242.34 L434.7 242.85 L435.2 245.34 L435.7 245.55 L436.2 246.71 L436.7 248.46 L437.2 249.5 L437.7 250.62 L438.2 251.67 L438.7 253.5 L439.2 255.05 L439.7 256.47 L440.2 258.05 L440.7 259.7 L441.2 261.74 L441.7 263.34 L442.2 265.5 L442.7 267.56 L443.2 269.19 L443.7 270.99 L444.2 273.46 L444.7 275.1 L445.2 276.34 L445.7 278.6 L446.2 280.94 L446.7 282.59 L447.2 285.21 L447.7 286.39 L448.2 288.4 L448.7 291.47 L449.2 293.4 L449.7 294.71 L450.2 297.37 L450.7 299.88 L451.2 301.08 L451.7 303.11 L452.2 305.14 L452.7 307.25 L453.2 309.01 L453.7 311.44 L454.2 313.09 L454.7 315.58 L455.2 318.28 L455.7 319.06 L456.2 321.63 L456.7 323.59 L457.2 324.22 L457.7 326.88 L458.2 328.62 L458.7 330.26 L459.2 332.38 L459.7 333.63 L460.2 335.56 L460.7 336.92 L461.2 338.59 L461.7 339.91 L462.2 342.48 L462.7 343.14 L463.2 344.2 L463.7 346.67 L464.2 347.89 L464.7 348.59 L465.2 349.7 L465.7 350.91 L466.2 352.8 L466.7 353.41 L467.2 354.4 L467.7 356.02 L468.2 356.67 L468.7 357.75 L469.2 359.41 L469.7 359.97 L470.2 360.99 L470.7 361.56 L471.2 362.68 L471.7 362.96 L472.2 364.11 L472.7 364.85 L473.2 365.03 L473.7 365.37 L474.2 366.63 L474.7 366.99 L475.2 367.8 L475.7 367.91 L476.2 368.81 L476.7 369.44 L477.2 370.38 L477.7 370.6 L478.2 370.52 L478.7 371.26 L479.2 370.89 L479.7 371.85 L480.2 371.81 L480.7 372.51 L481.2 372.44 L481.7 372.5 L482.2 372.57 L482.7 373.48 L483.2 373.27 L483.7 373.69 L484.2 373.79 L484.7 373.07 L485.2 374.15 L485.7 373.95 L486.2 374.35 L486.7 374.5 L487.2 373.82 L487.7 374.44 L488.2 374.62 L488.7 374.87 L489.2 375.15 L489.7 374.66 L490.2 374.88 L490.7 375.25 L491.2 374.45 L491.7 375.8 L492.2 374.88 L492.7 375.72 L493.2 375.36 L493.7 376.01 L494.2 375.76 L494.7 375.43 L495.2 374.9 L495.7 375.58 L496.2 375.69 L496.7 375.81 L497.2 375.22 L497.7 375.41 L498.2 375.47 L498.7 375.88 L499.2 375.52 L499.7 375.83 L500.2 376.24 L500.7 375.81 L501.2 376.47 L501.7 376.15 L502.2 376 L502.7 376.52 L503.2 376.35 L503.7 376.13 L504.2 376.06 L504.7 376.3 L505.2 376.48 L505.7 376.79 L506.2 376.53 L506.7 376.26 L507.2 376.05 L507.7 376.63 L508.2 376.71 L508.7 377 L509.2 376.45 L509.7 376.2 L510.2 376.96 L510.7 376.63 L511.2 376.27 L511.7 377.28 L512.2 377.02 L512.7 376.74 L513.2 376.81 L513.7 376.45 L514.2 377.05 L514.7 376.55 L515.2 376.54 L515.7 376.59 L516.2 376.3 L516.7 377.05 L517.2 377.28 L517.7 376.96 L518.2 375.99 L518.7 376.61 L519.2 376.52 L519.7 376.89 L520.2 376.04 L520.7 376.07 L521.2 376.69 L521.7 377.24 L522.2 376.88 L522.7 377.76 L523.2 376.75 L523.7 377.12 L524.2 377.11 L524.7 376.93 L525.2 377.67 L525.7 376.88 L526.2 377.04 L526.7 377.34 L527.2 377.36 L527.7 377.97 L528.2 377.45 L528.7 377.86 L529.2 377.57 L529.7 378.22 L530.2 377.81 L530.7 377.95 L531.2 377.33 L531.7 378.17 L532.2 377.73 L532.7 378.29" fill="none" stroke="#000" stroke-width="2.9" stroke-linejoin="round"/>
<path d="M336.9 379.2 H533.4" stroke="#ff00ff" stroke-width="1.6"/>
<path d="M423.2 261.2 L423.7 259.39 L424.2 257.68 L424.7 256.06 L425.2 254.55 L425.7 253.15 L426.2 251.86 L426.7 250.68 L427.2 249.63 L427.7 248.7 L428.2 247.9 L428.7 247.22 L429.2 246.68 L429.7 246.26 L430.2 245.98 L430.7 245.84 L431.2 245.83 L431.7 245.94 L432.2 246.17 L432.7 246.51 L433.2 246.96 L433.7 247.53 L434.2 248.21 L434.7 249 L435.2 249.9 L435.7 250.9 L436.2 252.01 L436.7 253.21 L437.2 254.51 L437.7 255.91 L438.2 257.39 L438.7 258.96 L439.2 260.62 L439.7 262.35 L440.2 264.15 L440.7 266.02 L441.2 267.96 L441.7 269.96 L442.2 272.01 L442.7 274.12 L443.2 276.27 L443.7 278.47 L444.2 280.7 L444.7 282.96 L445.2 285.25 L445.7 287.57 L446.2 289.9 L446.7 292.25 L447.2 294.6 L447.7 296.97 L448.2 299.33 L448.7 301.69 L449.2 304.05 L449.7 306.4 L450.2 308.73 L450.7 311.04 L451.2 313.34 L451.7 315.61 L452.2 317.85 L452.7 320.06 L453.2 322.24 L453.7 324.39 L454.2 326.5 L454.7 328.57 L455.2 330.6 L455.7 332.59 L456.2 334.53 L456.7 336.42 L457.2 338.27 L457.7 340.08 L458.2 341.83 L458.7 343.53 L459.2 345.19 L459.7 346.79 L460.2 348.34 L460.7 349.85 L461.2 351.3 L461.7 352.7 L462.2 354.05 L462.7 355.35 L463.2 356.6 L463.7 357.8 L464.2 358.95 L464.7 360.06 L465.2 361.12 L465.7 362.13 L466.2 363.1 L466.7 364.03 L467.2 364.91 L467.7 365.75 L468.2 366.55 L468.7 367.31 L469.2 368.03 L469.7 368.72 L470.2 369.37 L470.7 369.98 L471.2 370.57 L471.7 371.12 L472.2 371.64 L472.7 372.13 L473.2 372.59 L473.7 373.03 L474.2 373.44 L474.7 373.82 L475.2 374.18 L475.7 374.52 L476.2 374.84 L476.7 375.14 L477.2 375.42 L477.7 375.68 L478.2 375.92 L478.7 376.15 L479.2 376.36 L479.7 376.56 L480.2 376.74 L480.7 376.91 L481.2 377.07 L481.7 377.22 L482.2 377.35 L482.7 377.48 L483.2 377.6 L483.7 377.71 L484.2 377.81 L484.7 377.9 L485.2 377.99 L485.7 378.07 L486.2 378.14 L486.7 378.21 L487.2 378.27 L487.7 378.33 L488.2 378.38 L488.7 378.43 L489.2 378.47 L489.7 378.51 L490.2 378.55 L490.7 378.59 L491.2 378.62 L491.7 378.65 L492.2 378.68 L492.7 378.7 L493.2 378.72 L493.7 378.74 L494.2 378.76 L494.7 378.78 L495.2 378.8 L495.7 378.81 L496.2 378.83 L496.7 378.84 L497.2 378.85 L497.7 378.86 L498.2 378.87 L498.7 378.88 L499.2 378.89 L499.7 378.9" fill="none" stroke="#ff1a1a" stroke-width="1.85" stroke-dasharray="3.8 2.8"/>
<path d="M395.2 379.2 L395.7 379.2 L396.2 379.2 L396.7 379.2 L397.2 379.2 L397.7 379.2 L398.2 379.2 L398.7 379.19 L399.2 379.19 L399.7 379.19 L400.2 379.19 L400.7 379.19 L401.2 379.19 L401.7 379.19 L402.2 379.19 L402.7 379.18 L403.2 379.18 L403.7 379.18 L404.2 379.18 L404.7 379.17 L405.2 379.17 L405.7 379.17 L406.2 379.16 L406.7 379.16 L407.2 379.15 L407.7 379.15 L408.2 379.14 L408.7 379.13 L409.2 379.12 L409.7 379.11 L410.2 379.1 L410.7 379.09 L411.2 379.08 L411.7 379.07 L412.2 379.05 L412.7 379.04 L413.2 379.02 L413.7 379 L414.2 378.98 L414.7 378.95 L415.2 378.93 L415.7 378.9 L416.2 378.87 L416.7 378.84 L417.2 378.8 L417.7 378.76 L418.2 378.72 L418.7 378.68 L419.2 378.63 L419.7 378.58 L420.2 378.52 L420.7 378.46 L421.2 378.39 L421.7 378.32 L422.2 378.25 L422.7 378.17 L423.2 378.08 L423.7 377.99 L424.2 377.89 L424.7 377.79 L425.2 377.68 L425.7 377.57 L426.2 377.44 L426.7 377.31 L427.2 377.18 L427.7 377.03 L428.2 376.88 L428.7 376.72 L429.2 376.55 L429.7 376.38 L430.2 376.2 L430.7 376 L431.2 375.81 L431.7 375.6 L432.2 375.38 L432.7 375.16 L433.2 374.93 L433.7 374.69 L434.2 374.44 L434.7 374.19 L435.2 373.93 L435.7 373.66 L436.2 373.38 L436.7 373.1 L437.2 372.81 L437.7 372.52 L438.2 372.22 L438.7 371.92 L439.2 371.61 L439.7 371.3 L440.2 370.98 L440.7 370.67 L441.2 370.35 L441.7 370.03 L442.2 369.71 L442.7 369.39 L443.2 369.08 L443.7 368.76 L444.2 368.45 L444.7 368.15 L445.2 367.84 L445.7 367.55 L446.2 367.26 L446.7 366.98 L447.2 366.7 L447.7 366.44 L448.2 366.18 L448.7 365.94 L449.2 365.71 L449.7 365.48 L450.2 365.28 L450.7 365.08 L451.2 364.91 L451.7 364.74 L452.2 364.59 L452.7 364.46 L453.2 364.35 L453.7 364.25 L454.2 364.17 L454.7 364.1 L455.2 364.06 L455.7 364.03 L456.2 364.02 L456.7 364.03 L457.2 364.06 L457.7 364.1 L458.2 364.16 L458.7 364.24 L459.2 364.34 L459.7 364.46 L460.2 364.59 L460.7 364.74 L461.2 364.9 L461.7 365.08 L462.2 365.27 L462.7 365.48 L463.2 365.7 L463.7 365.93 L464.2 366.17 L464.7 366.43 L465.2 366.69 L465.7 366.96 L466.2 367.25 L466.7 367.54 L467.2 367.83 L467.7 368.13 L468.2 368.44 L468.7 368.75 L469.2 369.07 L469.7 369.38 L470.2 369.7 L470.7 370.02 L471.2 370.34 L471.7 370.65 L472.2 370.97 L472.7 371.28 L473.2 371.6 L473.7 371.9 L474.2 372.21 L474.7 372.51 L475.2 372.8 L475.7 373.09 L476.2 373.37 L476.7 373.65 L477.2 373.91 L477.7 374.18 L478.2 374.43 L478.7 374.68 L479.2 374.92 L479.7 375.15 L480.2 375.37 L480.7 375.59 L481.2 375.8 L481.7 376 L482.2 376.19 L482.7 376.37 L483.2 376.55 L483.7 376.71 L484.2 376.87 L484.7 377.03 L485.2 377.17 L485.7 377.31 L486.2 377.44 L486.7 377.56 L487.2 377.68 L487.7 377.79 L488.2 377.89 L488.7 377.99 L489.2 378.08 L489.7 378.17 L490.2 378.25 L490.7 378.32 L491.2 378.39 L491.7 378.46 L492.2 378.52 L492.7 378.57 L493.2 378.63 L493.7 378.68 L494.2 378.72 L494.7 378.76 L495.2 378.8 L495.7 378.84 L496.2 378.87 L496.7 378.9 L497.2 378.93 L497.7 378.95 L498.2 378.98 L498.7 379 L499.2 379.02 L499.7 379.04 L500.2 379.05 L500.7 379.07 L501.2 379.08 L501.7 379.09 L502.2 379.1 L502.7 379.11 L503.2 379.12 L503.7 379.13 L504.2 379.14 L504.7 379.15 L505.2 379.15 L505.7 379.16 L506.2 379.16 L506.7 379.17 L507.2 379.17 L507.7 379.17 L508.2 379.18 L508.7 379.18 L509.2 379.18 L509.7 379.18 L510.2 379.19 L510.7 379.19 L511.2 379.19 L511.7 379.19 L512.2 379.19 L512.7 379.19 L513.2 379.19 L513.7 379.19 L514.2 379.2 L514.7 379.2 L515.2 379.2 L515.7 379.2 L516.2 379.2 L516.7 379.2 L517.2 379.2 L517.7 379.2 L518.2 379.2 L518.7 379.2 L519.2 379.2 L519.7 379.2" fill="none" stroke="#1a1aff" stroke-width="1.85" stroke-dasharray="3.8 2.8"/>
<path d="M336.7 378.01 L337.2 377.99 L337.7 377.98 L338.2 377.97 L338.7 377.95 L339.2 377.94 L339.7 377.92 L340.2 377.91 L340.7 377.9 L341.2 377.88 L341.7 377.87 L342.2 377.85 L342.7 377.84 L343.2 377.82 L343.7 377.8 L344.2 377.79 L344.7 377.77 L345.2 377.75 L345.7 377.74 L346.2 377.72 L346.7 377.7 L347.2 377.68 L347.7 377.66 L348.2 377.65 L348.7 377.63 L349.2 377.61 L349.7 377.59 L350.2 377.57 L350.7 377.55 L351.2 377.53 L351.7 377.5 L352.2 377.48 L352.7 377.46 L353.2 377.44 L353.7 377.41 L354.2 377.39 L354.7 377.37 L355.2 377.34 L355.7 377.32 L356.2 377.29 L356.7 377.27 L357.2 377.24 L357.7 377.21 L358.2 377.18 L358.7 377.16 L359.2 377.13 L359.7 377.1 L360.2 377.07 L360.7 377.04 L361.2 377.01 L361.7 376.97 L362.2 376.94 L362.7 376.91 L363.2 376.87 L363.7 376.84 L364.2 376.8 L364.7 376.76 L365.2 376.73 L365.7 376.69 L366.2 376.65 L366.7 376.61 L367.2 376.56 L367.7 376.52 L368.2 376.48 L368.7 376.43 L369.2 376.38 L369.7 376.33 L370.2 376.28 L370.7 376.23 L371.2 376.18 L371.7 376.12 L372.2 376.06 L372.7 376 L373.2 375.94 L373.7 375.88 L374.2 375.81 L374.7 375.74 L375.2 375.67 L375.7 375.6 L376.2 375.52 L376.7 375.44 L377.2 375.35 L377.7 375.26 L378.2 375.17 L378.7 375.07 L379.2 374.97 L379.7 374.86 L380.2 374.75 L380.7 374.63 L381.2 374.5 L381.7 374.37 L382.2 374.23 L382.7 374.09 L383.2 373.93 L383.7 373.76 L384.2 373.59 L384.7 373.41 L385.2 373.21 L385.7 373 L386.2 372.79 L386.7 372.55 L387.2 372.31 L387.7 372.05 L388.2 371.77 L388.7 371.47 L389.2 371.16 L389.7 370.83 L390.2 370.48 L390.7 370.11 L391.2 369.71 L391.7 369.29 L392.2 368.85 L392.7 368.38 L393.2 367.88 L393.7 367.35 L394.2 366.8 L394.7 366.21 L395.2 365.58 L395.7 364.92 L396.2 364.23 L396.7 363.5 L397.2 362.72 L397.7 361.91 L398.2 361.06 L398.7 360.15 L399.2 359.21 L399.7 358.22 L400.2 357.17 L400.7 356.08 L401.2 354.94 L401.7 353.74 L402.2 352.49 L402.7 351.18 L403.2 349.82 L403.7 348.4 L404.2 346.93 L404.7 345.39 L405.2 343.79 L405.7 342.14 L406.2 340.42 L406.7 338.64 L407.2 336.81 L407.7 334.91 L408.2 332.95 L408.7 330.93 L409.2 328.85 L409.7 326.71 L410.2 324.52 L410.7 322.27 L411.2 319.97 L411.7 317.62 L412.2 315.21 L412.7 312.76 L413.2 310.27 L413.7 307.73 L414.2 305.16 L414.7 302.56 L415.2 299.92 L415.7 297.27 L416.2 294.59 L416.7 291.9 L417.2 289.21 L417.7 286.51 L418.2 283.82 L418.7 281.15 L419.2 278.49 L419.7 275.87 L420.2 273.28 L420.7 270.73 L421.2 268.24 L421.7 265.81 L422.2 263.45 L422.7 261.17 L423.2 258.98 L423.7 256.88 L424.2 254.88 L424.7 252.99 L425.2 251.21 L425.7 249.56 L426.2 248.03 L426.7 246.63 L427.2 245.38 L427.7 244.29 L428.2 243.36 L428.7 242.59 L429.2 241.97 L429.7 241.52 L430.2 241.21 L430.7 241.05 L431.2 241.04 L431.7 241.16 L432.2 241.42 L432.7 241.8 L433.2 242.3 L433.7 242.92 L434.2 243.64 L434.7 244.47 L435.2 245.39 L435.7 246.4 L436.2 247.5 L436.7 248.68 L437.2 249.93 L437.7 251.26 L438.2 252.65 L438.7 254.11 L439.2 255.62 L439.7 257.2 L440.2 258.82 L440.7 260.49 L441.2 262.21 L441.7 263.97 L442.2 265.77 L442.7 267.61 L443.2 269.48 L443.7 271.39 L444.2 273.32 L444.7 275.27 L445.2 277.25 L445.7 279.25 L446.2 281.27 L446.7 283.3 L447.2 285.34 L447.7 287.4 L448.2 289.46 L448.7 291.53 L449.2 293.6 L449.7 295.67 L450.2 297.74 L450.7 299.81 L451.2 301.87 L451.7 303.92 L452.2 305.96 L452.7 307.99 L453.2 310.01 L453.7 312.01 L454.2 314 L454.7 315.96 L455.2 317.9 L455.7 319.82 L456.2 321.72 L456.7 323.59 L457.2 325.43 L457.7 327.25 L458.2 329.03 L458.7 330.79 L459.2 332.51 L459.7 334.2 L460.2 335.85 L460.7 337.47 L461.2 339.05 L461.7 340.6 L462.2 342.11 L462.7 343.58 L463.2 345.02 L463.7 346.42 L464.2 347.77 L464.7 349.09 L465.2 350.37 L465.7 351.62 L466.2 352.82 L466.7 353.98 L467.2 355.11 L467.7 356.2 L468.2 357.25 L468.7 358.26 L469.2 359.23 L469.7 360.17 L470.2 361.07 L470.7 361.94 L471.2 362.77 L471.7 363.57 L472.2 364.33 L472.7 365.07 L473.2 365.77 L473.7 366.43 L474.2 367.07 L474.7 367.68 L475.2 368.26 L475.7 368.81 L476.2 369.34 L476.7 369.84 L477.2 370.31 L477.7 370.76 L478.2 371.19 L478.7 371.59 L479.2 371.98 L479.7 372.34 L480.2 372.68 L480.7 373.01 L481.2 373.31 L481.7 373.6 L482.2 373.87 L482.7 374.13 L483.2 374.37 L483.7 374.6 L484.2 374.81 L484.7 375.01 L485.2 375.2 L485.7 375.38 L486.2 375.54 L486.7 375.7 L487.2 375.85 L487.7 375.99 L488.2 376.12 L488.7 376.24 L489.2 376.35 L489.7 376.46 L490.2 376.56 L490.7 376.65 L491.2 376.74 L491.7 376.82 L492.2 376.9 L492.7 376.97 L493.2 377.04 L493.7 377.1 L494.2 377.16 L494.7 377.22 L495.2 377.27 L495.7 377.32 L496.2 377.37 L496.7 377.42 L497.2 377.46 L497.7 377.5 L498.2 377.54 L498.7 377.57 L499.2 377.6 L499.7 377.64 L500.2 377.67 L500.7 377.7 L501.2 377.72 L501.7 377.75 L502.2 377.78 L502.7 377.8 L503.2 377.82 L503.7 377.84 L504.2 377.87 L504.7 377.89 L505.2 377.91 L505.7 377.93 L506.2 377.94 L506.7 377.96 L507.2 377.98 L507.7 377.99 L508.2 378.01 L508.7 378.03 L509.2 378.04 L509.7 378.06 L510.2 378.07 L510.7 378.08 L511.2 378.1 L511.7 378.11 L512.2 378.12 L512.7 378.14 L513.2 378.15 L513.7 378.16 L514.2 378.17 L514.7 378.19 L515.2 378.2 L515.7 378.21 L516.2 378.22 L516.7 378.23 L517.2 378.24 L517.7 378.25 L518.2 378.26 L518.7 378.27 L519.2 378.28 L519.7 378.29 L520.2 378.3 L520.7 378.31 L521.2 378.32 L521.7 378.33 L522.2 378.34 L522.7 378.35 L523.2 378.35 L523.7 378.36 L524.2 378.37 L524.7 378.38 L525.2 378.39 L525.7 378.4 L526.2 378.4 L526.7 378.41 L527.2 378.42 L527.7 378.43 L528.2 378.43 L528.7 378.44 L529.2 378.45 L529.7 378.46 L530.2 378.46 L530.7 378.47 L531.2 378.48 L531.7 378.48 L532.2 378.49 L532.7 378.5" fill="none" stroke="#ff8000" stroke-width="2.3" stroke-linejoin="round"/>
<rect x="336.2" y="232.3" width="197.9" height="155.2" fill="none" stroke="#000" stroke-width="1.35"/>
<path d="M358.2 387.5V383.9M402.2 387.5V383.9M446.2 387.5V383.9M490.2 387.5V383.9M380.2 387.5V385.2M424.2 387.5V385.2M468.2 387.5V385.2M512.2 387.5V385.2" stroke="#000" stroke-width="1.2" fill="none"/>
<text x="358.2" y="404.3" font-family="Liberation Serif, serif" font-size="15" text-anchor="middle" fill="#000" >536</text>
<text x="402.2" y="404.3" font-family="Liberation Serif, serif" font-size="15" text-anchor="middle" fill="#000" >534</text>
<text x="446.2" y="404.3" font-family="Liberation Serif, serif" font-size="15" text-anchor="middle" fill="#000" >532</text>
<text x="490.2" y="404.3" font-family="Liberation Serif, serif" font-size="15" text-anchor="middle" fill="#000" >530</text>
<text x="534.2" y="404.3" font-family="Liberation Serif, serif" font-size="15" text-anchor="middle" fill="#000" >528</text>
<text x="428.35" y="423.2" font-family="Liberation Serif, serif" font-size="16.85" text-anchor="middle" fill="#000" >Binding energy (eV)</text>
<text transform="translate(318 309.95) rotate(-90)" x="0" y="0" font-family="Liberation Serif, serif" font-size="16.7" text-anchor="middle" fill="#000" >Indensity (a.u.)</text>
<text x="301.5" y="243.9" font-family="Liberation Sans, sans-serif" font-size="20.5" text-anchor="middle" fill="#000" >(d)</text>
<text x="382.2" y="274.2" font-family="Liberation Sans, sans-serif" font-size="13" text-anchor="start" fill="#f0843c" >O 1s</text>
</svg>
</body></html>
